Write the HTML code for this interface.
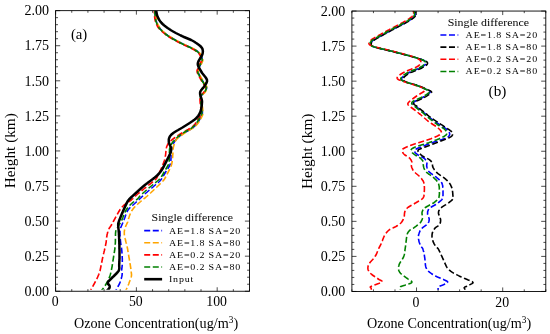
<!DOCTYPE html>
<html><head><meta charset="utf-8"><title>Ozone profiles</title>
<style>html,body{margin:0;padding:0;background:#fff}svg{display:block}</style></head>
<body>
<svg width="550" height="334" viewBox="0 0 550 334">
<rect width="550" height="334" fill="#fff"/>
<defs><clipPath id="cl"><rect x="55.6" y="10.7" width="193.9" height="279.0"/></clipPath><clipPath id="cr"><rect x="351.9" y="10.7" width="193.9" height="279.0"/></clipPath></defs>
<g clip-path="url(#cl)">
<path d="M155.4,10.5 L155.3,11.0 L155.3,11.5 L155.3,12.0 L155.3,12.5 L155.3,13.0 L155.3,13.5 L155.3,14.0 L155.3,14.5 L155.4,15.0 L155.4,15.5 L155.5,16.0 L155.5,16.5 L155.6,17.0 L155.6,17.5 L155.7,18.0 L155.8,18.5 L155.9,19.0 L156.0,19.5 L156.1,20.0 L156.2,20.5 L156.3,21.0 L156.4,21.5 L156.6,22.0 L156.8,22.5 L156.9,23.0 L157.1,23.5 L157.3,24.0 L157.5,24.5 L157.8,25.0 L158.0,25.5 L158.3,26.0 L158.6,26.5 L158.9,27.0 L159.2,27.5 L159.6,28.0 L160.0,28.5 L160.4,29.0 L160.9,29.5 L161.3,30.0 L161.8,30.5 L162.4,31.0 L162.9,31.5 L163.5,32.0 L164.0,32.5 L164.6,33.0 L165.2,33.5 L165.8,34.0 L166.5,34.5 L167.1,35.0 L167.8,35.5 L168.6,36.0 L169.3,36.5 L170.1,37.0 L170.9,37.5 L171.8,38.0 L172.6,38.5 L173.5,39.0 L174.4,39.5 L175.3,40.0 L176.2,40.5 L177.1,41.0 L178.0,41.5 L179.0,42.0 L180.0,42.5 L180.9,43.0 L182.0,43.5 L183.0,44.0 L184.0,44.5 L185.1,45.0 L186.2,45.5 L187.2,46.0 L188.3,46.5 L189.4,47.0 L190.5,47.5 L191.6,48.0 L192.6,48.5 L193.5,49.0 L194.5,49.5 L195.3,50.0 L196.1,50.5 L196.9,51.0 L197.6,51.5 L198.2,52.0 L198.8,52.5 L199.3,53.0 L199.7,53.5 L200.1,54.0 L200.5,54.5 L200.8,55.0 L201.1,55.5 L201.3,56.0 L201.5,56.5 L201.7,57.0 L201.9,57.5 L202.0,58.0 L202.1,58.5 L202.3,59.0 L202.4,59.5 L202.5,60.0 L202.5,60.5 L202.4,61.0 L202.1,61.5 L201.9,62.0 L201.7,62.5 L201.4,63.0 L201.1,63.5 L200.9,64.0 L200.6,64.5 L200.4,65.0 L200.1,65.5 L199.9,66.0 L199.6,66.5 L199.4,67.0 L199.2,67.5 L198.9,68.0 L198.7,68.5 L198.5,69.0 L198.3,69.5 L198.2,70.0 L198.0,70.5 L198.0,71.0 L198.0,71.5 L198.1,72.0 L198.2,72.5 L198.4,73.0 L198.6,73.5 L198.8,74.0 L199.1,74.5 L199.3,75.0 L199.6,75.5 L199.9,76.0 L200.1,76.5 L200.4,77.0 L200.7,77.5 L200.9,78.0 L201.2,78.5 L201.5,79.0 L201.8,79.5 L202.1,80.0 L202.3,80.5 L202.6,81.0 L202.9,81.5 L203.2,82.0 L203.5,82.5 L203.9,83.0 L204.2,83.5 L204.6,84.0 L204.9,84.5 L205.3,85.0 L205.6,85.5 L205.9,86.0 L206.2,86.5 L206.5,87.0 L206.6,87.5 L206.7,88.0 L206.6,88.5 L206.4,89.0 L206.2,89.5 L206.0,90.0 L205.8,90.5 L205.5,91.0 L205.2,91.5 L204.9,92.0 L204.5,92.5 L204.0,93.0 L203.5,93.5 L203.0,94.0 L202.4,94.5 L201.9,95.0 L201.5,95.5 L201.1,96.0 L200.9,96.5 L200.9,97.0 L200.9,97.5 L200.9,98.0 L201.0,98.5 L201.0,99.0 L201.0,99.5 L201.1,100.0 L201.1,100.5 L201.2,101.0 L201.2,101.5 L201.3,102.0 L201.3,102.5 L201.4,103.0 L201.5,103.5 L201.5,104.0 L201.6,104.5 L201.7,105.0 L201.7,105.5 L201.8,106.0 L201.9,106.5 L201.9,107.0 L202.0,107.5 L202.1,108.0 L202.1,108.5 L202.2,109.0 L202.2,109.5 L202.3,110.0 L202.3,110.5 L202.4,111.0 L202.4,111.5 L202.4,112.0 L202.4,112.5 L202.4,113.0 L202.4,113.5 L202.3,114.0 L202.2,114.5 L202.0,115.0 L201.8,115.5 L201.6,116.0 L201.3,116.5 L201.1,117.0 L200.8,117.5 L200.5,118.0 L200.2,118.5 L199.9,119.0 L199.6,119.5 L199.3,120.0 L199.0,120.5 L198.7,121.0 L198.4,121.5 L198.1,122.0 L197.7,122.5 L197.4,123.0 L197.0,123.5 L196.6,124.0 L196.2,124.5 L195.7,125.0 L195.3,125.5 L194.8,126.0 L194.3,126.5 L193.8,127.0 L193.2,127.5 L192.6,128.0 L191.9,128.5 L191.1,129.0 L190.3,129.5 L189.4,130.0 L188.5,130.5 L187.5,131.0 L186.6,131.5 L185.7,132.0 L184.8,132.5 L184.0,133.0 L183.2,133.5 L182.5,134.0 L181.8,134.5 L181.2,135.0 L180.5,135.5 L179.9,136.0 L179.3,136.5 L178.8,137.0 L178.2,137.5 L177.7,138.0 L177.2,138.5 L176.7,139.0 L176.2,139.5 L175.8,140.0 L175.4,140.5 L175.0,141.0 L174.6,141.5 L174.3,142.0 L174.0,142.5 L173.6,143.0 L173.3,143.5 L173.1,144.0 L172.8,144.5 L172.6,145.0 L172.4,145.5 L172.2,146.0 L172.0,146.5 L171.9,147.0 L171.8,147.5 L171.6,148.0 L171.5,148.5 L171.4,149.0 L171.3,149.5 L171.3,150.0 L171.3,150.5 L171.2,151.0 L171.2,151.5 L171.2,152.0 L171.2,152.5 L171.1,153.0 L171.1,153.5 L171.1,154.0 L171.1,154.5 L171.0,155.0 L171.0,155.5 L171.0,156.0 L171.0,156.5 L171.0,157.0 L171.0,157.5 L171.0,158.0 L171.0,158.5 L170.9,159.0 L170.9,159.5 L170.9,160.0 L170.9,160.5 L170.9,161.0 L170.8,161.5 L170.8,162.0 L170.7,162.5 L170.6,163.0 L170.5,163.5 L170.3,164.0 L170.1,164.5 L169.9,165.0 L169.7,165.5 L169.4,166.0 L169.1,166.5 L168.8,167.0 L168.5,167.5 L168.2,168.0 L167.9,168.5 L167.6,169.0 L167.3,169.5 L167.0,170.0 L166.6,170.5 L166.3,171.0 L166.0,171.5 L165.7,172.0 L165.4,172.5 L165.1,173.0 L164.8,173.5 L164.5,174.0 L164.2,174.5 L163.9,175.0 L163.6,175.5 L163.3,176.0 L163.0,176.5 L162.7,177.0 L162.4,177.5 L162.1,178.0 L161.8,178.5 L161.5,179.0 L161.1,179.5 L160.7,180.0 L160.3,180.5 L159.9,181.0 L159.4,181.5 L158.8,182.0 L158.3,182.5 L157.7,183.0 L157.1,183.5 L156.5,184.0 L155.9,184.5 L155.3,185.0 L154.7,185.5 L154.1,186.0 L153.5,186.5 L153.0,187.0 L152.4,187.5 L151.8,188.0 L151.2,188.5 L150.7,189.0 L150.1,189.5 L149.5,190.0 L148.9,190.5 L148.3,191.0 L147.7,191.5 L147.2,192.0 L146.6,192.5 L146.0,193.0 L145.4,193.5 L144.9,194.0 L144.3,194.5 L143.7,195.0 L143.2,195.5 L142.7,196.0 L142.2,196.5 L141.7,197.0 L141.2,197.5 L140.7,198.0 L140.1,198.5 L139.6,199.0 L139.1,199.5 L138.5,200.0 L138.0,200.5 L137.4,201.0 L136.9,201.5 L136.3,202.0 L135.8,202.5 L135.2,203.0 L134.7,203.5 L134.1,204.0 L133.6,204.5 L133.0,205.0 L132.4,205.5 L131.9,206.0 L131.3,206.5 L130.8,207.0 L130.2,207.5 L129.7,208.0 L129.2,208.5 L128.8,209.0 L128.4,209.5 L128.0,210.0 L127.7,210.5 L127.4,211.0 L127.1,211.5 L126.9,212.0 L126.7,212.5 L126.5,213.0 L126.3,213.5 L126.1,214.0 L125.9,214.5 L125.7,215.0 L125.6,215.5 L125.4,216.0 L125.2,216.5 L125.0,217.0 L124.9,217.5 L124.7,218.0 L124.5,218.5 L124.3,219.0 L124.1,219.5 L123.9,220.0 L123.7,220.5 L123.5,221.0 L123.3,221.5 L123.1,222.0 L122.9,222.5 L122.7,223.0 L122.5,223.5 L122.3,224.0 L122.1,224.5 L121.9,225.0 L121.6,225.5 L121.4,226.0 L121.2,226.5 L121.0,227.0 L120.8,227.5 L120.6,228.0 L120.5,228.5 L120.4,229.0 L120.2,229.5 L120.2,230.0 L120.1,230.5 L120.0,231.0 L120.0,231.5 L120.0,232.0 L120.0,232.5 L120.0,233.0 L120.0,233.5 L120.0,234.0 L120.0,234.5 L120.0,235.0 L120.0,235.5 L120.1,236.0 L120.1,236.5 L120.1,237.0 L120.2,237.5 L120.2,238.0 L120.2,238.5 L120.3,239.0 L120.3,239.5 L120.4,240.0 L120.4,240.5 L120.5,241.0 L120.5,241.5 L120.6,242.0 L120.6,242.5 L120.7,243.0 L120.8,243.5 L120.8,244.0 L120.9,244.5 L121.0,245.0 L121.1,245.5 L121.2,246.0 L121.3,246.5 L121.4,247.0 L121.4,247.5 L121.5,248.0 L121.6,248.5 L121.6,249.0 L121.7,249.5 L121.7,250.0 L121.8,250.5 L121.8,251.0 L121.9,251.5 L121.9,252.0 L121.9,252.5 L122.0,253.0 L122.0,253.5 L122.1,254.0 L122.1,254.5 L122.1,255.0 L122.1,255.5 L122.2,256.0 L122.2,256.5 L122.2,257.0 L122.2,257.5 L122.2,258.0 L122.3,258.5 L122.3,259.0 L122.3,259.5 L122.3,260.0 L122.3,260.5 L122.3,261.0 L122.3,261.5 L122.3,262.0 L122.3,262.5 L122.2,263.0 L122.2,263.5 L122.2,264.0 L122.2,264.5 L122.2,265.0 L122.2,265.5 L122.1,266.0 L122.1,266.5 L122.0,267.0 L122.0,267.5 L121.9,268.0 L121.8,268.5 L121.8,269.0 L121.7,269.5 L121.7,270.0 L121.7,270.5 L121.8,271.0 L122.0,271.5 L122.1,272.0 L122.2,272.5 L122.2,273.0 L122.2,273.5 L122.2,274.0 L122.1,274.5 L122.1,275.0 L122.0,275.5 L121.9,276.0 L121.8,276.5 L121.7,277.0 L121.5,277.5 L121.4,278.0 L121.3,278.5 L121.1,279.0 L121.0,279.5 L120.9,280.0 L120.7,280.5 L120.6,281.0 L120.4,281.5 L120.2,282.0 L120.0,282.5 L119.8,283.0 L119.6,283.5 L119.4,284.0 L119.1,284.5 L118.8,285.0 L118.6,285.5 L118.3,286.0 L118.0,286.5 L117.7,287.0 L117.5,287.5 L117.2,288.0 L116.9,288.5 L116.7,289.0 L116.4,289.5 L116.1,290.0 L115.9,290.5 L115.6,291.0" fill="none" stroke="#0000ff" stroke-width="1.6" stroke-dasharray="6.0 2.58" stroke-dashoffset="1.5"/>
<path d="M155.7,10.5 L155.7,11.0 L155.7,11.5 L155.6,12.0 L155.6,12.5 L155.6,13.0 L155.6,13.5 L155.7,14.0 L155.7,14.5 L155.7,15.0 L155.8,15.5 L155.8,16.0 L155.9,16.5 L155.9,17.0 L156.0,17.5 L156.1,18.0 L156.2,18.5 L156.2,19.0 L156.3,19.5 L156.4,20.0 L156.5,20.5 L156.7,21.0 L156.8,21.5 L157.0,22.0 L157.1,22.5 L157.3,23.0 L157.5,23.5 L157.7,24.0 L157.9,24.5 L158.1,25.0 L158.4,25.5 L158.6,26.0 L158.9,26.5 L159.2,27.0 L159.6,27.5 L159.9,28.0 L160.3,28.5 L160.8,29.0 L161.2,29.5 L161.7,30.0 L162.2,30.5 L162.7,31.0 L163.3,31.5 L163.8,32.0 L164.4,32.5 L165.0,33.0 L165.6,33.5 L166.2,34.0 L166.8,34.5 L167.5,35.0 L168.2,35.5 L168.9,36.0 L169.7,36.5 L170.5,37.0 L171.3,37.5 L172.1,38.0 L173.0,38.5 L173.8,39.0 L174.7,39.5 L175.6,40.0 L176.5,40.5 L177.5,41.0 L178.4,41.5 L179.4,42.0 L180.3,42.5 L181.3,43.0 L182.3,43.5 L183.4,44.0 L184.4,44.5 L185.5,45.0 L186.5,45.5 L187.6,46.0 L188.7,46.5 L189.8,47.0 L190.9,47.5 L192.0,48.0 L193.0,48.5 L193.9,49.0 L194.8,49.5 L195.7,50.0 L196.5,50.5 L197.3,51.0 L197.9,51.5 L198.6,52.0 L199.1,52.5 L199.6,53.0 L200.1,53.5 L200.5,54.0 L200.9,54.5 L201.2,55.0 L201.4,55.5 L201.7,56.0 L201.9,56.5 L202.1,57.0 L202.2,57.5 L202.4,58.0 L202.5,58.5 L202.6,59.0 L202.8,59.5 L202.8,60.0 L202.8,60.5 L202.7,61.0 L202.5,61.5 L202.3,62.0 L202.0,62.5 L201.8,63.0 L201.5,63.5 L201.2,64.0 L201.0,64.5 L200.7,65.0 L200.5,65.5 L200.2,66.0 L200.0,66.5 L199.8,67.0 L199.5,67.5 L199.3,68.0 L199.1,68.5 L198.9,69.0 L198.7,69.5 L198.5,70.0 L198.4,70.5 L198.4,71.0 L198.4,71.5 L198.5,72.0 L198.6,72.5 L198.7,73.0 L198.9,73.5 L199.2,74.0 L199.4,74.5 L199.7,75.0 L200.0,75.5 L200.2,76.0 L200.5,76.5 L200.7,77.0 L201.0,77.5 L201.3,78.0 L201.6,78.5 L201.8,79.0 L202.1,79.5 L202.4,80.0 L202.7,80.5 L203.0,81.0 L203.3,81.5 L203.6,82.0 L203.9,82.5 L204.2,83.0 L204.6,83.5 L204.9,84.0 L205.3,84.5 L205.6,85.0 L206.0,85.5 L206.3,86.0 L206.6,86.5 L206.9,87.0 L207.0,87.5 L207.0,88.0 L206.9,88.5 L206.8,89.0 L206.6,89.5 L206.4,90.0 L206.1,90.5 L205.8,91.0 L205.5,91.5 L205.2,92.0 L204.8,92.5 L204.4,93.0 L203.9,93.5 L203.3,94.0 L202.8,94.5 L202.3,95.0 L201.8,95.5 L201.5,96.0 L201.3,96.5 L201.3,97.0 L201.3,97.5 L201.3,98.0 L201.3,98.5 L201.4,99.0 L201.4,99.5 L201.5,100.0 L201.5,100.5 L201.6,101.0 L201.6,101.5 L201.7,102.0 L201.8,102.5 L201.8,103.0 L201.9,103.5 L202.0,104.0 L202.0,104.5 L202.1,105.0 L202.2,105.5 L202.3,106.0 L202.3,106.5 L202.4,107.0 L202.5,107.5 L202.6,108.0 L202.6,108.5 L202.7,109.0 L202.7,109.5 L202.8,110.0 L202.8,110.5 L202.9,111.0 L202.9,111.5 L202.9,112.0 L203.0,112.5 L203.0,113.0 L202.9,113.5 L202.8,114.0 L202.7,114.5 L202.6,115.0 L202.4,115.5 L202.2,116.0 L201.9,116.5 L201.7,117.0 L201.4,117.5 L201.1,118.0 L200.8,118.5 L200.6,119.0 L200.3,119.5 L200.0,120.0 L199.7,120.5 L199.4,121.0 L199.2,121.5 L198.8,122.0 L198.5,122.5 L198.2,123.0 L197.8,123.5 L197.4,124.0 L197.0,124.5 L196.5,125.0 L196.0,125.5 L195.5,126.0 L194.9,126.5 L194.3,127.0 L193.6,127.5 L192.8,128.0 L192.1,128.5 L191.3,129.0 L190.4,129.5 L189.6,130.0 L188.7,130.5 L187.9,131.0 L187.0,131.5 L186.2,132.0 L185.4,132.5 L184.6,133.0 L183.9,133.5 L183.2,134.0 L182.5,134.5 L181.8,135.0 L181.2,135.5 L180.5,136.0 L179.9,136.5 L179.3,137.0 L178.7,137.5 L178.1,138.0 L177.5,138.5 L177.0,139.0 L176.5,139.5 L176.1,140.0 L175.8,140.5 L175.4,141.0 L175.2,141.5 L174.9,142.0 L174.7,142.5 L174.6,143.0 L174.4,143.5 L174.3,144.0 L174.1,144.5 L174.0,145.0 L173.8,145.5 L173.7,146.0 L173.5,146.5 L173.4,147.0 L173.3,147.5 L173.2,148.0 L173.2,148.5 L173.2,149.0 L173.1,149.5 L173.1,150.0 L173.1,150.5 L173.1,151.0 L173.0,151.5 L173.0,152.0 L173.0,152.5 L172.9,153.0 L172.9,153.5 L172.9,154.0 L172.8,154.5 L172.8,155.0 L172.7,155.5 L172.7,156.0 L172.7,156.5 L172.6,157.0 L172.6,157.5 L172.5,158.0 L172.5,158.5 L172.4,159.0 L172.4,159.5 L172.3,160.0 L172.3,160.5 L172.2,161.0 L172.2,161.5 L172.1,162.0 L172.0,162.5 L171.9,163.0 L171.8,163.5 L171.7,164.0 L171.6,164.5 L171.4,165.0 L171.3,165.5 L171.1,166.0 L170.9,166.5 L170.7,167.0 L170.5,167.5 L170.3,168.0 L170.0,168.5 L169.8,169.0 L169.5,169.5 L169.3,170.0 L169.0,170.5 L168.8,171.0 L168.5,171.5 L168.3,172.0 L168.0,172.5 L167.7,173.0 L167.5,173.5 L167.2,174.0 L167.0,174.5 L166.7,175.0 L166.5,175.5 L166.2,176.0 L165.9,176.5 L165.7,177.0 L165.4,177.5 L165.1,178.0 L164.8,178.5 L164.5,179.0 L164.1,179.5 L163.8,180.0 L163.4,180.5 L162.9,181.0 L162.5,181.5 L162.0,182.0 L161.5,182.5 L161.0,183.0 L160.5,183.5 L160.0,184.0 L159.5,184.5 L159.0,185.0 L158.5,185.5 L157.9,186.0 L157.4,186.5 L156.9,187.0 L156.4,187.5 L155.9,188.0 L155.3,188.5 L154.8,189.0 L154.3,189.5 L153.7,190.0 L153.2,190.5 L152.7,191.0 L152.1,191.5 L151.6,192.0 L151.1,192.5 L150.5,193.0 L150.0,193.5 L149.5,194.0 L148.9,194.5 L148.4,195.0 L147.8,195.5 L147.3,196.0 L146.7,196.5 L146.1,197.0 L145.5,197.5 L144.9,198.0 L144.2,198.5 L143.6,199.0 L143.0,199.5 L142.4,200.0 L141.8,200.5 L141.2,201.0 L140.7,201.5 L140.1,202.0 L139.5,202.5 L138.9,203.0 L138.4,203.5 L137.8,204.0 L137.3,204.5 L136.7,205.0 L136.2,205.5 L135.7,206.0 L135.2,206.5 L134.7,207.0 L134.2,207.5 L133.8,208.0 L133.4,208.5 L133.0,209.0 L132.6,209.5 L132.3,210.0 L131.9,210.5 L131.6,211.0 L131.3,211.5 L131.1,212.0 L130.8,212.5 L130.6,213.0 L130.4,213.5 L130.2,214.0 L130.0,214.5 L129.8,215.0 L129.6,215.5 L129.4,216.0 L129.2,216.5 L129.1,217.0 L128.9,217.5 L128.8,218.0 L128.6,218.5 L128.5,219.0 L128.4,219.5 L128.3,220.0 L128.1,220.5 L128.0,221.0 L127.8,221.5 L127.7,222.0 L127.5,222.5 L127.2,223.0 L127.0,223.5 L126.8,224.0 L126.5,224.5 L126.3,225.0 L126.1,225.5 L125.8,226.0 L125.6,226.5 L125.4,227.0 L125.2,227.5 L125.1,228.0 L124.9,228.5 L124.8,229.0 L124.7,229.5 L124.6,230.0 L124.5,230.5 L124.4,231.0 L124.3,231.5 L124.3,232.0 L124.3,232.5 L124.3,233.0 L124.3,233.5 L124.3,234.0 L124.3,234.5 L124.4,235.0 L124.5,235.5 L124.6,236.0 L124.7,236.5 L124.8,237.0 L124.9,237.5 L125.0,238.0 L125.1,238.5 L125.2,239.0 L125.4,239.5 L125.5,240.0 L125.6,240.5 L125.7,241.0 L125.8,241.5 L126.0,242.0 L126.1,242.5 L126.2,243.0 L126.4,243.5 L126.5,244.0 L126.6,244.5 L126.8,245.0 L126.9,245.5 L127.0,246.0 L127.1,246.5 L127.2,247.0 L127.3,247.5 L127.4,248.0 L127.5,248.5 L127.6,249.0 L127.7,249.5 L127.8,250.0 L127.8,250.5 L127.9,251.0 L128.0,251.5 L128.1,252.0 L128.2,252.5 L128.3,253.0 L128.3,253.5 L128.4,254.0 L128.5,254.5 L128.6,255.0 L128.7,255.5 L128.8,256.0 L128.8,256.5 L128.9,257.0 L129.0,257.5 L129.1,258.0 L129.2,258.5 L129.3,259.0 L129.4,259.5 L129.4,260.0 L129.5,260.5 L129.6,261.0 L129.7,261.5 L129.8,262.0 L129.9,262.5 L129.9,263.0 L130.0,263.5 L130.1,264.0 L130.2,264.5 L130.3,265.0 L130.4,265.5 L130.4,266.0 L130.5,266.5 L130.6,267.0 L130.7,267.5 L130.7,268.0 L130.8,268.5 L130.9,269.0 L130.9,269.5 L131.0,270.0 L131.1,270.5 L131.1,271.0 L131.2,271.5 L131.2,272.0 L131.3,272.5 L131.3,273.0 L131.4,273.5 L131.5,274.0 L131.5,274.5 L131.5,275.0 L131.5,275.5 L131.4,276.0 L131.3,276.5 L131.2,277.0 L131.0,277.5 L130.8,278.0 L130.7,278.5 L130.5,279.0 L130.3,279.5 L130.1,280.0 L129.9,280.5 L129.8,281.0 L129.6,281.5 L129.4,282.0 L129.2,282.5 L129.0,283.0 L128.9,283.5 L128.7,284.0 L128.5,284.5 L128.3,285.0 L128.1,285.5 L127.9,286.0 L127.7,286.5 L127.5,287.0 L127.2,287.5 L127.0,288.0 L126.8,288.5 L126.5,289.0 L126.3,289.5 L126.1,290.0 L125.8,290.5 L125.6,291.0" fill="none" stroke="#ffa500" stroke-width="1.6" stroke-dasharray="6.0 2.58" stroke-dashoffset="4.5"/>
<path d="M154.4,10.5 L154.4,11.0 L154.3,11.5 L154.3,12.0 L154.3,12.5 L154.3,13.0 L154.3,13.5 L154.3,14.0 L154.4,14.5 L154.4,15.0 L154.4,15.5 L154.5,16.0 L154.6,16.5 L154.6,17.0 L154.7,17.5 L154.8,18.0 L154.8,18.5 L154.9,19.0 L155.0,19.5 L155.1,20.0 L155.2,20.5 L155.3,21.0 L155.5,21.5 L155.6,22.0 L155.8,22.5 L156.0,23.0 L156.2,23.5 L156.4,24.0 L156.6,24.5 L156.8,25.0 L157.1,25.5 L157.3,26.0 L157.6,26.5 L157.9,27.0 L158.2,27.5 L158.6,28.0 L159.0,28.5 L159.4,29.0 L159.9,29.5 L160.4,30.0 L160.9,30.5 L161.4,31.0 L161.9,31.5 L162.5,32.0 L163.1,32.5 L163.7,33.0 L164.3,33.5 L164.9,34.0 L165.5,34.5 L166.2,35.0 L166.9,35.5 L167.6,36.0 L168.4,36.5 L169.2,37.0 L170.0,37.5 L170.8,38.0 L171.7,38.5 L172.5,39.0 L173.4,39.5 L174.3,40.0 L175.2,40.5 L176.1,41.0 L177.1,41.5 L178.0,42.0 L179.0,42.5 L180.0,43.0 L181.0,43.5 L182.0,44.0 L183.1,44.5 L184.1,45.0 L185.2,45.5 L186.3,46.0 L187.4,46.5 L188.5,47.0 L189.6,47.5 L190.6,48.0 L191.6,48.5 L192.6,49.0 L193.5,49.5 L194.4,50.0 L195.2,50.5 L195.9,51.0 L196.6,51.5 L197.2,52.0 L197.8,52.5 L198.3,53.0 L198.8,53.5 L199.2,54.0 L199.6,54.5 L199.9,55.0 L200.1,55.5 L200.3,56.0 L200.6,56.5 L200.7,57.0 L200.9,57.5 L201.0,58.0 L201.2,58.5 L201.3,59.0 L201.4,59.5 L201.5,60.0 L201.5,60.5 L201.4,61.0 L201.2,61.5 L201.0,62.0 L200.7,62.5 L200.4,63.0 L200.2,63.5 L199.9,64.0 L199.6,64.5 L199.4,65.0 L199.2,65.5 L198.9,66.0 L198.7,66.5 L198.4,67.0 L198.2,67.5 L198.0,68.0 L197.8,68.5 L197.6,69.0 L197.4,69.5 L197.2,70.0 L197.1,70.5 L197.0,71.0 L197.1,71.5 L197.1,72.0 L197.3,72.5 L197.4,73.0 L197.6,73.5 L197.9,74.0 L198.1,74.5 L198.4,75.0 L198.6,75.5 L198.9,76.0 L199.2,76.5 L199.4,77.0 L199.7,77.5 L200.0,78.0 L200.2,78.5 L200.5,79.0 L200.8,79.5 L201.1,80.0 L201.4,80.5 L201.7,81.0 L202.0,81.5 L202.3,82.0 L202.6,82.5 L202.9,83.0 L203.2,83.5 L203.6,84.0 L203.9,84.5 L204.3,85.0 L204.6,85.5 L205.0,86.0 L205.3,86.5 L205.5,87.0 L205.7,87.5 L205.7,88.0 L205.6,88.5 L205.5,89.0 L205.3,89.5 L205.1,90.0 L204.8,90.5 L204.5,91.0 L204.2,91.5 L203.9,92.0 L203.5,92.5 L203.1,93.0 L202.5,93.5 L202.0,94.0 L201.4,94.5 L200.9,95.0 L200.5,95.5 L200.1,96.0 L199.9,96.5 L199.9,97.0 L199.9,97.5 L199.9,98.0 L199.9,98.5 L199.9,99.0 L200.0,99.5 L200.0,100.0 L200.0,100.5 L200.1,101.0 L200.1,101.5 L200.1,102.0 L200.2,102.5 L200.2,103.0 L200.3,103.5 L200.3,104.0 L200.4,104.5 L200.4,105.0 L200.5,105.5 L200.6,106.0 L200.6,106.5 L200.7,107.0 L200.7,107.5 L200.8,108.0 L200.8,108.5 L200.9,109.0 L200.9,109.5 L200.9,110.0 L201.0,110.5 L201.0,111.0 L201.0,111.5 L201.0,112.0 L201.0,112.5 L201.0,113.0 L201.0,113.5 L200.9,114.0 L200.7,114.5 L200.5,115.0 L200.3,115.5 L200.1,116.0 L199.8,116.5 L199.6,117.0 L199.3,117.5 L199.0,118.0 L198.6,118.5 L198.3,119.0 L198.0,119.5 L197.7,120.0 L197.4,120.5 L197.1,121.0 L196.8,121.5 L196.4,122.0 L196.1,122.5 L195.7,123.0 L195.4,123.5 L195.0,124.0 L194.5,124.5 L194.1,125.0 L193.6,125.5 L193.1,126.0 L192.5,126.5 L191.9,127.0 L191.2,127.5 L190.5,128.0 L189.7,128.5 L188.9,129.0 L188.1,129.5 L187.2,130.0 L186.3,130.5 L185.5,131.0 L184.6,131.5 L183.7,132.0 L182.8,132.5 L181.9,133.0 L181.1,133.5 L180.3,134.0 L179.5,134.5 L178.8,135.0 L178.0,135.5 L177.3,136.0 L176.5,136.5 L175.8,137.0 L175.1,137.5 L174.4,138.0 L173.7,138.5 L173.0,139.0 L172.4,139.5 L171.7,140.0 L171.2,140.5 L170.6,141.0 L170.1,141.5 L169.6,142.0 L169.1,142.5 L168.7,143.0 L168.3,143.5 L167.9,144.0 L167.6,144.5 L167.4,145.0 L167.2,145.5 L167.0,146.0 L166.8,146.5 L166.6,147.0 L166.5,147.5 L166.3,148.0 L166.2,148.5 L166.1,149.0 L166.1,149.5 L166.0,150.0 L166.0,150.5 L165.9,151.0 L165.9,151.5 L165.9,152.0 L165.8,152.5 L165.8,153.0 L165.7,153.5 L165.7,154.0 L165.6,154.5 L165.6,155.0 L165.5,155.5 L165.4,156.0 L165.3,156.5 L165.3,157.0 L165.2,157.5 L165.1,158.0 L164.9,158.5 L164.8,159.0 L164.7,159.5 L164.5,160.0 L164.4,160.5 L164.2,161.0 L164.0,161.5 L163.8,162.0 L163.6,162.5 L163.5,163.0 L163.3,163.5 L163.1,164.0 L162.9,164.5 L162.7,165.0 L162.5,165.5 L162.3,166.0 L162.1,166.5 L161.9,167.0 L161.7,167.5 L161.5,168.0 L161.3,168.5 L161.1,169.0 L160.8,169.5 L160.6,170.0 L160.4,170.5 L160.1,171.0 L159.8,171.5 L159.6,172.0 L159.3,172.5 L159.0,173.0 L158.8,173.5 L158.5,174.0 L158.3,174.5 L158.0,175.0 L157.8,175.5 L157.6,176.0 L157.4,176.5 L157.2,177.0 L157.0,177.5 L156.7,178.0 L156.4,178.5 L156.0,179.0 L155.5,179.5 L155.0,180.0 L154.4,180.5 L153.8,181.0 L153.2,181.5 L152.6,182.0 L152.0,182.5 L151.3,183.0 L150.7,183.5 L150.1,184.0 L149.4,184.5 L148.8,185.0 L148.2,185.5 L147.5,186.0 L146.9,186.5 L146.3,187.0 L145.7,187.5 L145.0,188.0 L144.4,188.5 L143.8,189.0 L143.2,189.5 L142.6,190.0 L141.9,190.5 L141.3,191.0 L140.7,191.5 L140.1,192.0 L139.5,192.5 L138.8,193.0 L138.2,193.5 L137.7,194.0 L137.1,194.5 L136.6,195.0 L136.0,195.5 L135.5,196.0 L135.0,196.5 L134.5,197.0 L134.0,197.5 L133.5,198.0 L133.0,198.5 L132.4,199.0 L131.8,199.5 L131.2,200.0 L130.5,200.5 L129.8,201.0 L129.1,201.5 L128.4,202.0 L127.7,202.5 L127.0,203.0 L126.2,203.5 L125.5,204.0 L124.9,204.5 L124.2,205.0 L123.6,205.5 L123.1,206.0 L122.6,206.5 L122.1,207.0 L121.7,207.5 L121.2,208.0 L120.8,208.5 L120.5,209.0 L120.1,209.5 L119.8,210.0 L119.5,210.5 L119.2,211.0 L118.9,211.5 L118.6,212.0 L118.3,212.5 L118.0,213.0 L117.8,213.5 L117.5,214.0 L117.2,214.5 L116.9,215.0 L116.6,215.5 L116.3,216.0 L116.1,216.5 L115.8,217.0 L115.5,217.5 L115.3,218.0 L115.0,218.5 L114.7,219.0 L114.4,219.5 L114.2,220.0 L113.9,220.5 L113.6,221.0 L113.3,221.5 L113.1,222.0 L112.8,222.5 L112.5,223.0 L112.2,223.5 L112.0,224.0 L111.7,224.5 L111.4,225.0 L111.1,225.5 L110.8,226.0 L110.4,226.5 L110.1,227.0 L109.7,227.5 L109.4,228.0 L109.1,228.5 L108.9,229.0 L108.7,229.5 L108.5,230.0 L108.3,230.5 L108.1,231.0 L107.9,231.5 L107.8,232.0 L107.6,232.5 L107.5,233.0 L107.4,233.5 L107.2,234.0 L107.1,234.5 L107.0,235.0 L107.0,235.5 L106.9,236.0 L106.8,236.5 L106.7,237.0 L106.6,237.5 L106.6,238.0 L106.5,238.5 L106.5,239.0 L106.4,239.5 L106.4,240.0 L106.3,240.5 L106.3,241.0 L106.2,241.5 L106.2,242.0 L106.1,242.5 L106.0,243.0 L105.9,243.5 L105.8,244.0 L105.7,244.5 L105.6,245.0 L105.5,245.5 L105.4,246.0 L105.3,246.5 L105.2,247.0 L105.1,247.5 L105.0,248.0 L104.8,248.5 L104.7,249.0 L104.6,249.5 L104.5,250.0 L104.4,250.5 L104.3,251.0 L104.1,251.5 L104.0,252.0 L103.9,252.5 L103.7,253.0 L103.6,253.5 L103.5,254.0 L103.3,254.5 L103.2,255.0 L103.1,255.5 L103.0,256.0 L102.9,256.5 L102.8,257.0 L102.7,257.5 L102.6,258.0 L102.5,258.5 L102.4,259.0 L102.3,259.5 L102.2,260.0 L102.1,260.5 L102.0,261.0 L101.9,261.5 L101.8,262.0 L101.7,262.5 L101.6,263.0 L101.5,263.5 L101.4,264.0 L101.3,264.5 L101.2,265.0 L101.1,265.5 L101.0,266.0 L100.9,266.5 L100.8,267.0 L100.7,267.5 L100.6,268.0 L100.5,268.5 L100.4,269.0 L100.3,269.5 L100.2,270.0 L100.1,270.5 L100.0,271.0 L99.8,271.5 L99.7,272.0 L99.5,272.5 L99.3,273.0 L99.1,273.5 L98.9,274.0 L98.8,274.5 L98.6,275.0 L98.3,275.5 L98.1,276.0 L97.9,276.5 L97.7,277.0 L97.5,277.5 L97.3,278.0 L97.0,278.5 L96.8,279.0 L96.5,279.5 L96.3,280.0 L96.0,280.5 L95.7,281.0 L95.5,281.5 L95.2,282.0 L94.9,282.5 L94.7,283.0 L94.4,283.5 L94.1,284.0 L93.8,284.5 L93.6,285.0 L93.3,285.5 L93.0,286.0 L92.7,286.5 L92.5,287.0 L92.2,287.5 L91.9,288.0 L91.6,288.5 L91.4,289.0 L91.1,289.5 L90.8,290.0 L90.6,290.5 L90.3,291.0" fill="none" stroke="#ff0000" stroke-width="1.6" stroke-dasharray="6.0 2.58" stroke-dashoffset="3"/>
<path d="M155.0,10.5 L155.0,11.0 L154.9,11.5 L154.9,12.0 L154.9,12.5 L154.9,13.0 L154.9,13.5 L154.9,14.0 L155.0,14.5 L155.0,15.0 L155.0,15.5 L155.1,16.0 L155.2,16.5 L155.2,17.0 L155.3,17.5 L155.4,18.0 L155.4,18.5 L155.5,19.0 L155.6,19.5 L155.7,20.0 L155.8,20.5 L155.9,21.0 L156.1,21.5 L156.2,22.0 L156.4,22.5 L156.6,23.0 L156.8,23.5 L157.0,24.0 L157.2,24.5 L157.4,25.0 L157.7,25.5 L157.9,26.0 L158.2,26.5 L158.5,27.0 L158.8,27.5 L159.2,28.0 L159.6,28.5 L160.0,29.0 L160.5,29.5 L161.0,30.0 L161.5,30.5 L162.0,31.0 L162.5,31.5 L163.1,32.0 L163.7,32.5 L164.3,33.0 L164.9,33.5 L165.5,34.0 L166.1,34.5 L166.8,35.0 L167.5,35.5 L168.2,36.0 L169.0,36.5 L169.8,37.0 L170.6,37.5 L171.4,38.0 L172.3,38.5 L173.1,39.0 L174.0,39.5 L174.9,40.0 L175.8,40.5 L176.7,41.0 L177.7,41.5 L178.6,42.0 L179.6,42.5 L180.6,43.0 L181.6,43.5 L182.6,44.0 L183.7,44.5 L184.7,45.0 L185.8,45.5 L186.9,46.0 L188.0,46.5 L189.1,47.0 L190.2,47.5 L191.2,48.0 L192.2,48.5 L193.2,49.0 L194.1,49.5 L195.0,50.0 L195.8,50.5 L196.5,51.0 L197.2,51.5 L197.8,52.0 L198.4,52.5 L198.9,53.0 L199.4,53.5 L199.8,54.0 L200.2,54.5 L200.5,55.0 L200.7,55.5 L200.9,56.0 L201.2,56.5 L201.3,57.0 L201.5,57.5 L201.6,58.0 L201.8,58.5 L201.9,59.0 L202.0,59.5 L202.1,60.0 L202.1,60.5 L202.0,61.0 L201.8,61.5 L201.6,62.0 L201.3,62.5 L201.0,63.0 L200.8,63.5 L200.5,64.0 L200.2,64.5 L200.0,65.0 L199.8,65.5 L199.5,66.0 L199.3,66.5 L199.0,67.0 L198.8,67.5 L198.6,68.0 L198.4,68.5 L198.2,69.0 L198.0,69.5 L197.8,70.0 L197.7,70.5 L197.6,71.0 L197.7,71.5 L197.7,72.0 L197.9,72.5 L198.0,73.0 L198.2,73.5 L198.5,74.0 L198.7,74.5 L199.0,75.0 L199.2,75.5 L199.5,76.0 L199.8,76.5 L200.0,77.0 L200.3,77.5 L200.6,78.0 L200.8,78.5 L201.1,79.0 L201.4,79.5 L201.7,80.0 L202.0,80.5 L202.3,81.0 L202.6,81.5 L202.9,82.0 L203.2,82.5 L203.5,83.0 L203.8,83.5 L204.2,84.0 L204.5,84.5 L204.9,85.0 L205.2,85.5 L205.6,86.0 L205.9,86.5 L206.1,87.0 L206.3,87.5 L206.3,88.0 L206.2,88.5 L206.1,89.0 L205.9,89.5 L205.7,90.0 L205.4,90.5 L205.1,91.0 L204.8,91.5 L204.5,92.0 L204.1,92.5 L203.7,93.0 L203.1,93.5 L202.6,94.0 L202.0,94.5 L201.5,95.0 L201.1,95.5 L200.8,96.0 L200.5,96.5 L200.5,97.0 L200.5,97.5 L200.5,98.0 L200.6,98.5 L200.6,99.0 L200.6,99.5 L200.7,100.0 L200.7,100.5 L200.8,101.0 L200.8,101.5 L200.9,102.0 L200.9,102.5 L201.0,103.0 L201.0,103.5 L201.1,104.0 L201.1,104.5 L201.2,105.0 L201.3,105.5 L201.3,106.0 L201.4,106.5 L201.5,107.0 L201.5,107.5 L201.6,108.0 L201.6,108.5 L201.7,109.0 L201.7,109.5 L201.8,110.0 L201.8,110.5 L201.8,111.0 L201.9,111.5 L201.9,112.0 L201.9,112.5 L201.9,113.0 L201.8,113.5 L201.7,114.0 L201.6,114.5 L201.4,115.0 L201.2,115.5 L200.9,116.0 L200.7,116.5 L200.4,117.0 L200.1,117.5 L199.8,118.0 L199.4,118.5 L199.1,119.0 L198.8,119.5 L198.5,120.0 L198.2,120.5 L197.9,121.0 L197.6,121.5 L197.2,122.0 L196.9,122.5 L196.5,123.0 L196.1,123.5 L195.7,124.0 L195.3,124.5 L194.9,125.0 L194.4,125.5 L193.9,126.0 L193.4,126.5 L192.9,127.0 L192.3,127.5 L191.7,128.0 L191.0,128.5 L190.2,129.0 L189.3,129.5 L188.4,130.0 L187.5,130.5 L186.6,131.0 L185.7,131.5 L184.8,132.0 L183.9,132.5 L183.0,133.0 L182.2,133.5 L181.5,134.0 L180.8,134.5 L180.1,135.0 L179.5,135.5 L178.9,136.0 L178.2,136.5 L177.6,137.0 L177.1,137.5 L176.5,138.0 L176.0,138.5 L175.4,139.0 L175.0,139.5 L174.5,140.0 L174.1,140.5 L173.6,141.0 L173.2,141.5 L172.8,142.0 L172.5,142.5 L172.1,143.0 L171.8,143.5 L171.5,144.0 L171.2,144.5 L170.9,145.0 L170.7,145.5 L170.5,146.0 L170.3,146.5 L170.1,147.0 L170.0,147.5 L169.8,148.0 L169.7,148.5 L169.6,149.0 L169.5,149.5 L169.5,150.0 L169.5,150.5 L169.5,151.0 L169.5,151.5 L169.4,152.0 L169.4,152.5 L169.4,153.0 L169.4,153.5 L169.4,154.0 L169.4,154.5 L169.4,155.0 L169.4,155.5 L169.3,156.0 L169.3,156.5 L169.3,157.0 L169.3,157.5 L169.3,158.0 L169.3,158.5 L169.3,159.0 L169.3,159.5 L169.3,160.0 L169.2,160.5 L169.2,161.0 L169.2,161.5 L169.2,162.0 L169.2,162.5 L169.1,163.0 L168.9,163.5 L168.7,164.0 L168.5,164.5 L168.2,165.0 L168.0,165.5 L167.7,166.0 L167.4,166.5 L167.1,167.0 L166.8,167.5 L166.5,168.0 L166.2,168.5 L165.9,169.0 L165.6,169.5 L165.4,170.0 L165.1,170.5 L164.8,171.0 L164.5,171.5 L164.2,172.0 L163.9,172.5 L163.6,173.0 L163.3,173.5 L163.0,174.0 L162.8,174.5 L162.5,175.0 L162.2,175.5 L161.9,176.0 L161.6,176.5 L161.3,177.0 L160.9,177.5 L160.5,178.0 L160.1,178.5 L159.6,179.0 L159.1,179.5 L158.5,180.0 L158.0,180.5 L157.4,181.0 L156.8,181.5 L156.2,182.0 L155.6,182.5 L154.9,183.0 L154.3,183.5 L153.7,184.0 L153.1,184.5 L152.5,185.0 L151.9,185.5 L151.3,186.0 L150.7,186.5 L150.1,187.0 L149.5,187.5 L148.9,188.0 L148.4,188.5 L147.8,189.0 L147.2,189.5 L146.6,190.0 L146.0,190.5 L145.4,191.0 L144.9,191.5 L144.3,192.0 L143.7,192.5 L143.1,193.0 L142.6,193.5 L142.0,194.0 L141.4,194.5 L140.9,195.0 L140.4,195.5 L140.0,196.0 L139.6,196.5 L139.2,197.0 L138.8,197.5 L138.4,198.0 L137.9,198.5 L137.4,199.0 L136.8,199.5 L136.1,200.0 L135.3,200.5 L134.6,201.0 L134.0,201.5 L133.4,202.0 L132.8,202.5 L132.2,203.0 L131.7,203.5 L131.1,204.0 L130.6,204.5 L130.1,205.0 L129.6,205.5 L129.1,206.0 L128.7,206.5 L128.2,207.0 L127.8,207.5 L127.5,208.0 L127.1,208.5 L126.8,209.0 L126.5,209.5 L126.2,210.0 L125.9,210.5 L125.6,211.0 L125.3,211.5 L125.1,212.0 L124.8,212.5 L124.6,213.0 L124.4,213.5 L124.2,214.0 L123.9,214.5 L123.8,215.0 L123.6,215.5 L123.4,216.0 L123.2,216.5 L123.0,217.0 L122.9,217.5 L122.7,218.0 L122.5,218.5 L122.3,219.0 L122.1,219.5 L121.8,220.0 L121.6,220.5 L121.3,221.0 L121.0,221.5 L120.7,222.0 L120.5,222.5 L120.2,223.0 L119.9,223.5 L119.6,224.0 L119.3,224.5 L119.0,225.0 L118.7,225.5 L118.4,226.0 L118.1,226.5 L117.8,227.0 L117.5,227.5 L117.2,228.0 L116.9,228.5 L116.7,229.0 L116.4,229.5 L116.2,230.0 L116.0,230.5 L115.8,231.0 L115.7,231.5 L115.7,232.0 L115.6,232.5 L115.6,233.0 L115.5,233.5 L115.5,234.0 L115.5,234.5 L115.5,235.0 L115.5,235.5 L115.5,236.0 L115.5,236.5 L115.5,237.0 L115.5,237.5 L115.5,238.0 L115.4,238.5 L115.4,239.0 L115.4,239.5 L115.4,240.0 L115.4,240.5 L115.4,241.0 L115.4,241.5 L115.4,242.0 L115.4,242.5 L115.3,243.0 L115.3,243.5 L115.3,244.0 L115.2,244.5 L115.2,245.0 L115.2,245.5 L115.1,246.0 L115.1,246.5 L115.1,247.0 L115.0,247.5 L115.0,248.0 L114.9,248.5 L114.8,249.0 L114.8,249.5 L114.7,250.0 L114.6,250.5 L114.5,251.0 L114.5,251.5 L114.4,252.0 L114.3,252.5 L114.2,253.0 L114.1,253.5 L114.1,254.0 L114.0,254.5 L113.9,255.0 L113.8,255.5 L113.7,256.0 L113.6,256.5 L113.6,257.0 L113.5,257.5 L113.4,258.0 L113.3,258.5 L113.3,259.0 L113.2,259.5 L113.1,260.0 L113.0,260.5 L112.9,261.0 L112.9,261.5 L112.8,262.0 L112.7,262.5 L112.6,263.0 L112.6,263.5 L112.5,264.0 L112.4,264.5 L112.3,265.0 L112.2,265.5 L112.2,266.0 L112.1,266.5 L112.0,267.0 L111.9,267.5 L111.8,268.0 L111.7,268.5 L111.6,269.0 L111.5,269.5 L111.4,270.0 L111.3,270.5 L111.2,271.0 L111.1,271.5 L110.9,272.0 L110.8,272.5 L110.7,273.0 L110.6,273.5 L110.5,274.0 L110.3,274.5 L110.2,275.0 L110.0,275.5 L109.9,276.0 L109.7,276.5 L109.5,277.0 L109.3,277.5 L109.1,278.0 L108.9,278.5 L108.7,279.0 L108.5,279.5 L108.2,280.0 L108.0,280.5 L107.8,281.0 L107.5,281.5 L107.3,282.0 L107.0,282.5 L106.7,283.0 L106.4,283.5 L106.1,284.0 L105.8,284.5 L105.5,285.0 L105.2,285.5 L104.8,286.0 L104.5,286.5 L104.1,287.0 L103.7,287.5 L103.4,288.0 L103.0,288.5 L102.7,289.0 L102.3,289.5 L101.9,290.0 L101.6,290.5 L101.2,291.0" fill="none" stroke="#008000" stroke-width="1.6" stroke-dasharray="6.0 2.58" stroke-dashoffset="0"/>
<path d="M156.3,10.5 L156.3,11.0 L156.3,11.5 L156.4,12.0 L156.5,12.5 L156.6,13.0 L156.6,13.5 L156.8,14.0 L156.9,14.5 L157.0,15.0 L157.2,15.5 L157.3,16.0 L157.5,16.5 L157.7,17.0 L157.9,17.5 L158.2,18.0 L158.4,18.5 L158.7,19.0 L159.0,19.5 L159.3,20.0 L159.6,20.5 L160.0,21.0 L160.3,21.5 L160.7,22.0 L161.2,22.5 L161.6,23.0 L162.1,23.5 L162.6,24.0 L163.2,24.5 L163.7,25.0 L164.3,25.5 L165.0,26.0 L165.6,26.5 L166.3,27.0 L166.9,27.5 L167.6,28.0 L168.4,28.5 L169.1,29.0 L169.9,29.5 L170.6,30.0 L171.4,30.5 L172.3,31.0 L173.1,31.5 L174.0,32.0 L174.9,32.5 L175.8,33.0 L176.8,33.5 L177.8,34.0 L178.8,34.5 L179.8,35.0 L180.8,35.5 L181.9,36.0 L182.9,36.5 L184.0,37.0 L185.2,37.5 L186.4,38.0 L187.6,38.5 L188.8,39.0 L190.0,39.5 L191.1,40.0 L192.1,40.5 L193.0,41.0 L193.9,41.5 L194.7,42.0 L195.4,42.5 L196.2,43.0 L196.9,43.5 L197.6,44.0 L198.3,44.5 L199.0,45.0 L199.6,45.5 L200.2,46.0 L200.7,46.5 L201.2,47.0 L201.6,47.5 L201.9,48.0 L202.2,48.5 L202.5,49.0 L202.6,49.5 L202.7,50.0 L202.8,50.5 L202.8,51.0 L202.9,51.5 L202.8,52.0 L202.8,52.5 L202.7,53.0 L202.6,53.5 L202.5,54.0 L202.3,54.5 L202.1,55.0 L201.9,55.5 L201.6,56.0 L201.3,56.5 L201.0,57.0 L200.7,57.5 L200.3,58.0 L200.1,58.5 L199.8,59.0 L199.5,59.5 L199.2,60.0 L198.9,60.5 L198.7,61.0 L198.4,61.5 L198.2,62.0 L198.0,62.5 L197.9,63.0 L197.8,63.5 L197.8,64.0 L197.8,64.5 L197.9,65.0 L198.0,65.5 L198.2,66.0 L198.4,66.5 L198.6,67.0 L198.8,67.5 L199.1,68.0 L199.4,68.5 L199.7,69.0 L200.0,69.5 L200.3,70.0 L200.6,70.5 L200.9,71.0 L201.2,71.5 L201.5,72.0 L201.8,72.5 L202.1,73.0 L202.5,73.5 L202.9,74.0 L203.3,74.5 L203.7,75.0 L204.1,75.5 L204.5,76.0 L204.9,76.5 L205.3,77.0 L205.7,77.5 L206.0,78.0 L206.3,78.5 L206.6,79.0 L206.8,79.5 L207.0,80.0 L207.0,80.5 L207.0,81.0 L207.0,81.5 L206.8,82.0 L206.6,82.5 L206.4,83.0 L206.1,83.5 L205.8,84.0 L205.5,84.5 L205.1,85.0 L204.8,85.5 L204.5,86.0 L204.2,86.5 L203.8,87.0 L203.4,87.5 L203.0,88.0 L202.5,88.5 L202.1,89.0 L201.7,89.5 L201.3,90.0 L201.0,90.5 L200.6,91.0 L200.4,91.5 L200.2,92.0 L200.1,92.5 L200.1,93.0 L200.1,93.5 L200.1,94.0 L200.2,94.5 L200.3,95.0 L200.4,95.5 L200.5,96.0 L200.7,96.5 L200.9,97.0 L201.0,97.5 L201.2,98.0 L201.4,98.5 L201.5,99.0 L201.7,99.5 L201.8,100.0 L201.9,100.5 L202.0,101.0 L202.0,101.5 L202.0,102.0 L202.0,102.5 L201.9,103.0 L201.9,103.5 L201.9,104.0 L201.8,104.5 L201.8,105.0 L201.7,105.5 L201.7,106.0 L201.6,106.5 L201.5,107.0 L201.5,107.5 L201.4,108.0 L201.3,108.5 L201.2,109.0 L201.0,109.5 L200.9,110.0 L200.8,110.5 L200.6,111.0 L200.5,111.5 L200.3,112.0 L200.1,112.5 L199.9,113.0 L199.7,113.5 L199.4,114.0 L199.1,114.5 L198.8,115.0 L198.5,115.5 L198.2,116.0 L197.8,116.5 L197.3,117.0 L196.9,117.5 L196.4,118.0 L195.9,118.5 L195.3,119.0 L194.7,119.5 L194.0,120.0 L193.3,120.5 L192.6,121.0 L191.9,121.5 L191.1,122.0 L190.4,122.5 L189.6,123.0 L188.9,123.5 L188.1,124.0 L187.3,124.5 L186.5,125.0 L185.7,125.5 L184.9,126.0 L184.1,126.5 L183.3,127.0 L182.5,127.5 L181.6,128.0 L180.8,128.5 L179.9,129.0 L179.0,129.5 L178.2,130.0 L177.3,130.5 L176.4,131.0 L175.6,131.5 L174.8,132.0 L174.0,132.5 L173.3,133.0 L172.7,133.5 L172.1,134.0 L171.5,134.5 L171.0,135.0 L170.6,135.5 L170.2,136.0 L169.9,136.5 L169.6,137.0 L169.4,137.5 L169.2,138.0 L169.0,138.5 L168.9,139.0 L168.8,139.5 L168.8,140.0 L168.8,140.5 L168.8,141.0 L168.8,141.5 L168.8,142.0 L168.9,142.5 L169.0,143.0 L169.2,143.5 L169.4,144.0 L169.6,144.5 L169.8,145.0 L170.1,145.5 L170.3,146.0 L170.5,146.5 L170.7,147.0 L170.9,147.5 L171.1,148.0 L171.2,148.5 L171.2,149.0 L171.2,149.5 L171.1,150.0 L171.1,150.5 L171.0,151.0 L170.9,151.5 L170.8,152.0 L170.6,152.5 L170.5,153.0 L170.3,153.5 L170.1,154.0 L169.8,154.5 L169.6,155.0 L169.3,155.5 L169.1,156.0 L168.8,156.5 L168.6,157.0 L168.3,157.5 L168.1,158.0 L167.8,158.5 L167.6,159.0 L167.3,159.5 L167.1,160.0 L166.8,160.5 L166.5,161.0 L166.3,161.5 L166.0,162.0 L165.8,162.5 L165.5,163.0 L165.3,163.5 L165.0,164.0 L164.7,164.5 L164.5,165.0 L164.2,165.5 L164.0,166.0 L163.7,166.5 L163.5,167.0 L163.2,167.5 L162.9,168.0 L162.7,168.5 L162.4,169.0 L162.0,169.5 L161.7,170.0 L161.4,170.5 L161.0,171.0 L160.7,171.5 L160.3,172.0 L159.9,172.5 L159.5,173.0 L159.1,173.5 L158.6,174.0 L158.1,174.5 L157.6,175.0 L157.1,175.5 L156.5,176.0 L156.0,176.5 L155.4,177.0 L154.8,177.5 L154.1,178.0 L153.5,178.5 L152.9,179.0 L152.2,179.5 L151.5,180.0 L150.9,180.5 L150.2,181.0 L149.5,181.5 L148.8,182.0 L148.1,182.5 L147.5,183.0 L146.8,183.5 L146.2,184.0 L145.5,184.5 L144.9,185.0 L144.3,185.5 L143.7,186.0 L143.1,186.5 L142.5,187.0 L142.0,187.5 L141.4,188.0 L140.8,188.5 L140.3,189.0 L139.7,189.5 L139.2,190.0 L138.6,190.5 L138.1,191.0 L137.5,191.5 L137.0,192.0 L136.4,192.5 L135.9,193.0 L135.3,193.5 L134.8,194.0 L134.2,194.5 L133.7,195.0 L133.2,195.5 L132.6,196.0 L132.1,196.5 L131.5,197.0 L131.0,197.5 L130.5,198.0 L130.0,198.5 L129.5,199.0 L129.0,199.5 L128.6,200.0 L128.2,200.5 L127.9,201.0 L127.6,201.5 L127.3,202.0 L127.0,202.5 L126.8,203.0 L126.6,203.5 L126.3,204.0 L126.1,204.5 L125.8,205.0 L125.6,205.5 L125.4,206.0 L125.1,206.5 L124.9,207.0 L124.7,207.5 L124.5,208.0 L124.2,208.5 L124.0,209.0 L123.8,209.5 L123.6,210.0 L123.4,210.5 L123.1,211.0 L122.9,211.5 L122.7,212.0 L122.5,212.5 L122.3,213.0 L122.0,213.5 L121.8,214.0 L121.6,214.5 L121.4,215.0 L121.2,215.5 L121.0,216.0 L120.8,216.5 L120.6,217.0 L120.4,217.5 L120.2,218.0 L120.0,218.5 L119.8,219.0 L119.6,219.5 L119.4,220.0 L119.2,220.5 L119.0,221.0 L118.9,221.5 L118.7,222.0 L118.5,222.5 L118.4,223.0 L118.3,223.5 L118.2,224.0 L118.2,224.5 L118.2,225.0 L118.2,225.5 L118.2,226.0 L118.3,226.5 L118.3,227.0 L118.4,227.5 L118.4,228.0 L118.4,228.5 L118.5,229.0 L118.6,229.5 L118.6,230.0 L118.7,230.5 L118.7,231.0 L118.7,231.5 L118.8,232.0 L118.8,232.5 L118.9,233.0 L118.9,233.5 L118.9,234.0 L118.9,234.5 L119.0,235.0 L119.0,235.5 L119.0,236.0 L119.0,236.5 L119.1,237.0 L119.1,237.5 L119.1,238.0 L119.1,238.5 L119.2,239.0 L119.2,239.5 L119.2,240.0 L119.2,240.5 L119.2,241.0 L119.3,241.5 L119.3,242.0 L119.3,242.5 L119.3,243.0 L119.3,243.5 L119.3,244.0 L119.4,244.5 L119.4,245.0 L119.4,245.5 L119.4,246.0 L119.4,246.5 L119.4,247.0 L119.4,247.5 L119.4,248.0 L119.4,248.5 L119.4,249.0 L119.5,249.5 L119.5,250.0 L119.5,250.5 L119.5,251.0 L119.5,251.5 L119.5,252.0 L119.5,252.5 L119.5,253.0 L119.5,253.5 L119.5,254.0 L119.5,254.5 L119.5,255.0 L119.5,255.5 L119.5,256.0 L119.5,256.5 L119.5,257.0 L119.5,257.5 L119.5,258.0 L119.5,258.5 L119.5,259.0 L119.4,259.5 L119.4,260.0 L119.4,260.5 L119.4,261.0 L119.3,261.5 L119.3,262.0 L119.3,262.5 L119.3,263.0 L119.3,263.5 L119.2,264.0 L119.2,264.5 L119.2,265.0 L119.2,265.5 L119.2,266.0 L119.2,266.5 L119.3,267.0 L119.3,267.5 L119.3,268.0 L119.3,268.5 L119.2,269.0 L119.1,269.5 L119.0,270.0 L118.8,270.5 L118.6,271.0 L118.2,271.5 L117.8,272.0 L117.3,272.5 L116.9,273.0 L116.4,273.5 L115.9,274.0 L115.4,274.5 L114.9,275.0 L114.4,275.5 L113.9,276.0 L113.4,276.5 L112.8,277.0 L112.3,277.5 L111.8,278.0 L111.3,278.5 L110.8,279.0 L110.3,279.5 L109.8,280.0 L109.3,280.5 L108.9,281.0 L108.4,281.5 L108.0,282.0 L107.8,282.5 L107.7,283.0 L107.8,283.5 L108.1,284.0 L108.6,284.5 L109.1,285.0 L109.5,285.5 L109.6,286.0 L109.7,286.5 L109.7,287.0 L109.6,287.5 L109.4,288.0 L109.1,288.5 L108.6,289.0 L108.0,289.5 L107.6,290.0 L107.3,290.5 L107.0,291.0" fill="none" stroke="#000000" stroke-width="2.5" stroke-linejoin="round"/>
</g>
<g clip-path="url(#cr)">
<g transform="translate(0,0.4)">
<path d="M414.6,10.8 L414.8,11.3 L415.0,11.8 L415.1,12.3 L415.2,12.8 L415.2,13.3 L415.2,13.8 L415.1,14.3 L414.9,14.8 L414.7,15.3 L414.3,15.8 L413.8,16.3 L413.3,16.8 L412.7,17.3 L412.0,17.8 L411.4,18.3 L410.7,18.8 L409.9,19.3 L409.2,19.8 L408.4,20.3 L407.5,20.8 L406.6,21.3 L405.7,21.8 L404.8,22.3 L403.8,22.8 L402.9,23.3 L401.9,23.8 L401.0,24.3 L400.0,24.8 L399.1,25.3 L398.1,25.8 L397.2,26.3 L396.2,26.8 L395.3,27.3 L394.3,27.8 L393.4,28.3 L392.4,28.8 L391.5,29.3 L390.6,29.8 L389.6,30.3 L388.7,30.8 L387.8,31.3 L386.9,31.8 L386.0,32.3 L385.1,32.8 L384.1,33.3 L383.2,33.8 L382.4,34.3 L381.5,34.8 L380.6,35.3 L379.7,35.8 L378.8,36.3 L377.9,36.8 L377.0,37.3 L376.1,37.8 L375.3,38.3 L374.4,38.8 L373.6,39.3 L373.0,39.8 L372.4,40.3 L371.9,40.8 L371.5,41.3 L371.1,41.8 L370.8,42.3 L370.6,42.8 L370.4,43.3 L370.5,43.8 L370.7,44.3 L371.2,44.8 L372.0,45.3 L373.0,45.8 L374.4,46.3 L376.1,46.8 L378.0,47.3 L380.1,47.8 L382.1,48.3 L384.2,48.8 L386.4,49.3 L388.5,49.8 L390.6,50.3 L392.6,50.8 L394.6,51.3 L396.5,51.8 L398.4,52.3 L400.4,52.8 L402.3,53.3 L404.2,53.8 L406.1,54.3 L408.0,54.8 L409.9,55.3 L411.7,55.8 L413.5,56.3 L415.2,56.8 L416.8,57.3 L418.4,57.8 L420.0,58.3 L421.5,58.8 L422.8,59.3 L423.8,59.8 L424.7,60.3 L425.3,60.8 L425.7,61.3 L425.9,61.8 L425.9,62.3 L425.8,62.8 L425.5,63.3 L425.2,63.8 L424.7,64.3 L424.1,64.8 L423.5,65.3 L422.7,65.8 L421.8,66.3 L420.9,66.8 L419.9,67.3 L418.7,67.8 L417.5,68.3 L416.3,68.8 L415.0,69.3 L413.7,69.8 L412.5,70.3 L411.3,70.8 L410.1,71.3 L409.1,71.8 L408.2,72.3 L407.3,72.8 L406.4,73.3 L405.7,73.8 L404.9,74.3 L404.3,74.8 L403.7,75.3 L403.1,75.8 L402.6,76.3 L402.2,76.8 L401.8,77.3 L401.5,77.8 L401.4,78.3 L401.5,78.8 L401.8,79.3 L402.3,79.8 L403.1,80.3 L404.1,80.8 L405.4,81.3 L406.9,81.8 L408.6,82.3 L410.3,82.8 L412.1,83.3 L413.8,83.8 L415.5,84.3 L417.0,84.8 L418.3,85.3 L419.5,85.8 L420.7,86.3 L421.9,86.8 L423.1,87.3 L424.2,87.8 L425.3,88.3 L426.3,88.8 L427.4,89.3 L428.5,89.8 L429.3,90.3 L429.9,90.8 L430.1,91.3 L429.8,91.8 L429.4,92.3 L428.8,92.8 L428.2,93.3 L427.4,93.8 L426.6,94.3 L425.8,94.8 L425.1,95.3 L424.3,95.8 L423.4,96.3 L422.5,96.8 L421.5,97.3 L420.5,97.8 L419.4,98.3 L418.4,98.8 L417.4,99.3 L416.4,99.8 L415.5,100.3 L414.7,100.8 L414.0,101.3 L413.5,101.8 L413.1,102.3 L412.9,102.8 L413.1,103.3 L413.4,103.8 L414.0,104.3 L414.6,104.8 L415.2,105.3 L415.8,105.8 L416.4,106.3 L417.0,106.8 L417.6,107.3 L418.2,107.8 L418.8,108.3 L419.4,108.8 L420.0,109.3 L420.6,109.8 L421.3,110.3 L422.0,110.8 L422.6,111.3 L423.3,111.8 L424.0,112.3 L424.6,112.8 L425.2,113.3 L425.7,113.8 L426.1,114.3 L426.7,114.8 L427.3,115.3 L427.9,115.8 L428.6,116.3 L429.2,116.8 L429.9,117.3 L430.6,117.8 L431.3,118.3 L431.9,118.8 L432.6,119.3 L433.3,119.8 L434.0,120.3 L434.8,120.8 L435.5,121.3 L436.2,121.8 L436.9,122.3 L437.7,122.8 L438.5,123.3 L439.2,123.8 L440.0,124.3 L440.8,124.8 L441.6,125.3 L442.4,125.8 L443.2,126.3 L444.0,126.8 L444.7,127.3 L445.4,127.8 L446.1,128.3 L446.7,128.8 L447.2,129.3 L447.7,129.8 L448.2,130.3 L448.6,130.8 L449.0,131.3 L449.2,131.8 L449.4,132.3 L449.5,132.8 L449.5,133.3 L449.5,133.8 L449.4,134.3 L449.2,134.8 L449.0,135.3 L448.6,135.8 L448.0,136.3 L447.1,136.8 L446.0,137.3 L444.7,137.8 L443.2,138.3 L441.8,138.8 L440.2,139.3 L438.7,139.8 L437.1,140.3 L435.6,140.8 L434.1,141.3 L432.6,141.8 L431.3,142.3 L429.9,142.8 L428.5,143.3 L427.2,143.8 L425.9,144.3 L424.6,144.8 L423.3,145.3 L422.0,145.8 L420.8,146.3 L419.5,146.8 L418.3,147.3 L417.1,147.8 L416.2,148.3 L415.4,148.8 L414.8,149.3 L414.5,149.8 L414.4,150.3 L414.5,150.8 L414.7,151.3 L415.0,151.8 L415.4,152.3 L415.9,152.8 L416.5,153.3 L417.2,153.8 L417.9,154.3 L418.8,154.8 L419.8,155.3 L420.8,155.8 L421.8,156.3 L422.7,156.8 L423.5,157.3 L424.1,157.8 L424.7,158.3 L425.2,158.8 L425.6,159.3 L426.0,159.8 L426.3,160.3 L426.6,160.8 L426.7,161.3 L426.8,161.8 L426.8,162.3 L426.8,162.8 L426.8,163.3 L426.7,163.8 L426.6,164.3 L426.6,164.8 L426.6,165.3 L426.6,165.8 L426.8,166.3 L426.9,166.8 L427.0,167.3 L427.2,167.8 L427.4,168.3 L427.6,168.8 L427.8,169.3 L428.1,169.8 L428.4,170.3 L428.8,170.8 L429.2,171.3 L429.7,171.8 L430.3,172.3 L430.9,172.8 L431.6,173.3 L432.3,173.8 L433.0,174.3 L433.7,174.8 L434.5,175.3 L435.1,175.8 L435.8,176.3 L436.4,176.8 L436.9,177.3 L437.5,177.8 L438.1,178.3 L438.7,178.8 L439.3,179.3 L439.8,179.8 L440.3,180.3 L440.7,180.8 L441.1,181.3 L441.4,181.8 L441.6,182.3 L441.9,182.8 L442.1,183.3 L442.2,183.8 L442.4,184.3 L442.5,184.8 L442.6,185.3 L442.6,185.8 L442.7,186.3 L442.7,186.8 L442.8,187.3 L442.8,187.8 L442.8,188.3 L442.8,188.8 L442.8,189.3 L442.9,189.8 L442.9,190.3 L442.9,190.8 L442.9,191.3 L442.9,191.8 L442.9,192.3 L442.9,192.8 L442.9,193.3 L442.9,193.8 L442.9,194.3 L442.9,194.8 L442.8,195.3 L442.8,195.8 L442.8,196.3 L442.7,196.8 L442.7,197.3 L442.5,197.8 L442.2,198.3 L441.9,198.8 L441.4,199.3 L440.9,199.8 L440.4,200.3 L439.8,200.8 L439.2,201.3 L438.6,201.8 L438.0,202.3 L437.3,202.8 L436.6,203.3 L435.7,203.8 L434.8,204.3 L433.9,204.8 L433.0,205.3 L432.1,205.8 L431.3,206.3 L430.5,206.8 L429.8,207.3 L429.3,207.8 L428.8,208.3 L428.5,208.8 L428.2,209.3 L428.0,209.8 L427.8,210.3 L427.6,210.8 L427.5,211.3 L427.5,211.8 L427.5,212.3 L427.5,212.8 L427.5,213.3 L427.5,213.8 L427.7,214.3 L427.8,214.8 L428.0,215.3 L428.2,215.8 L428.4,216.3 L428.6,216.8 L428.8,217.3 L429.0,217.8 L429.1,218.3 L429.1,218.8 L429.1,219.3 L429.0,219.8 L428.9,220.3 L428.8,220.8 L428.6,221.3 L428.4,221.8 L428.1,222.3 L427.7,222.8 L427.3,223.3 L426.9,223.8 L426.4,224.3 L425.7,224.8 L425.0,225.3 L424.3,225.8 L423.6,226.3 L422.9,226.8 L422.3,227.3 L421.8,227.8 L421.4,228.3 L420.9,228.8 L420.6,229.3 L420.2,229.8 L419.9,230.3 L419.7,230.8 L419.5,231.3 L419.3,231.8 L419.1,232.3 L418.9,232.8 L418.8,233.3 L418.6,233.8 L418.5,234.3 L418.4,234.8 L418.4,235.3 L418.3,235.8 L418.3,236.3 L418.3,236.8 L418.3,237.3 L418.4,237.8 L418.4,238.3 L418.5,238.8 L418.6,239.3 L418.7,239.8 L418.8,240.3 L418.9,240.8 L419.1,241.3 L419.2,241.8 L419.4,242.3 L419.6,242.8 L419.7,243.3 L420.0,243.8 L420.2,244.3 L420.4,244.8 L420.7,245.3 L421.0,245.8 L421.4,246.3 L421.8,246.8 L422.2,247.3 L422.5,247.8 L422.8,248.3 L422.9,248.8 L423.1,249.3 L423.2,249.8 L423.3,250.3 L423.5,250.8 L423.6,251.3 L423.7,251.8 L423.8,252.3 L423.9,252.8 L424.0,253.3 L424.1,253.8 L424.2,254.3 L424.3,254.8 L424.3,255.3 L424.4,255.8 L424.5,256.3 L424.6,256.8 L424.6,257.3 L424.7,257.8 L424.8,258.3 L424.8,258.8 L424.9,259.3 L424.9,259.8 L424.9,260.3 L425.0,260.8 L425.0,261.3 L425.1,261.8 L425.1,262.3 L425.2,262.8 L425.2,263.3 L425.3,263.8 L425.3,264.3 L425.4,264.8 L425.5,265.3 L425.6,265.8 L425.7,266.3 L425.9,266.8 L426.1,267.3 L426.3,267.8 L426.6,268.3 L427.0,268.8 L427.3,269.3 L427.7,269.8 L428.1,270.3 L428.6,270.8 L429.1,271.3 L429.7,271.8 L430.4,272.3 L431.1,272.8 L431.9,273.3 L432.7,273.8 L433.6,274.3 L434.5,274.8 L435.4,275.3 L436.4,275.8 L437.4,276.3 L438.6,276.8 L439.8,277.3 L441.0,277.8 L442.2,278.3 L443.4,278.8 L444.4,279.3 L445.5,279.8 L446.4,280.3 L447.1,280.8 L447.5,281.3 L447.3,281.8 L446.7,282.3 L445.9,282.8 L444.8,283.3 L443.8,283.8 L442.7,284.3 L441.4,284.8 L440.0,285.3 L438.9,285.8 L438.3,286.3 L438.1,286.8 L438.0,287.3 L438.0,287.8 L438.0,288.3 L438.0,288.8 L438.0,289.3 L438.0,289.8 L438.0,290.3 L438.0,290.8 L438.0,291.0" transform="translate(0.1,0.25)" fill="none" stroke="#0000ff" stroke-width="1.6" stroke-dasharray="6.0 2.58" stroke-dashoffset="1.5"/>
<path d="M415.0,10.8 L415.2,11.3 L415.4,11.8 L415.5,12.3 L415.6,12.8 L415.6,13.3 L415.6,13.8 L415.5,14.3 L415.3,14.8 L415.1,15.3 L414.7,15.8 L414.2,16.3 L413.7,16.8 L413.1,17.3 L412.4,17.8 L411.8,18.3 L411.1,18.8 L410.3,19.3 L409.6,19.8 L408.8,20.3 L407.9,20.8 L407.0,21.3 L406.1,21.8 L405.2,22.3 L404.2,22.8 L403.3,23.3 L402.3,23.8 L401.4,24.3 L400.4,24.8 L399.5,25.3 L398.5,25.8 L397.6,26.3 L396.6,26.8 L395.7,27.3 L394.7,27.8 L393.8,28.3 L392.8,28.8 L391.9,29.3 L391.0,29.8 L390.0,30.3 L389.1,30.8 L388.2,31.3 L387.3,31.8 L386.4,32.3 L385.5,32.8 L384.5,33.3 L383.6,33.8 L382.8,34.3 L381.9,34.8 L381.0,35.3 L380.1,35.8 L379.2,36.3 L378.3,36.8 L377.4,37.3 L376.5,37.8 L375.7,38.3 L374.8,38.8 L374.0,39.3 L373.4,39.8 L372.8,40.3 L372.3,40.8 L371.9,41.3 L371.5,41.8 L371.2,42.3 L371.0,42.8 L370.8,43.3 L370.9,43.8 L371.1,44.3 L371.6,44.8 L372.4,45.3 L373.4,45.8 L374.8,46.3 L376.5,46.8 L378.4,47.3 L380.5,47.8 L382.5,48.3 L384.6,48.8 L386.8,49.3 L388.9,49.8 L391.0,50.3 L393.0,50.8 L395.0,51.3 L396.9,51.8 L398.8,52.3 L400.8,52.8 L402.7,53.3 L404.6,53.8 L406.5,54.3 L408.4,54.8 L410.3,55.3 L412.1,55.8 L413.9,56.3 L415.6,56.8 L417.2,57.3 L418.8,57.8 L420.4,58.3 L421.9,58.8 L423.3,59.3 L424.5,59.8 L425.6,60.3 L426.4,60.8 L427.0,61.3 L427.3,61.8 L427.4,62.3 L427.4,62.8 L427.2,63.3 L426.8,63.8 L426.3,64.3 L425.7,64.8 L425.0,65.3 L424.2,65.8 L423.3,66.3 L422.3,66.8 L421.3,67.3 L420.1,67.8 L418.9,68.3 L417.6,68.8 L416.4,69.3 L415.1,69.8 L413.8,70.3 L412.7,70.8 L411.5,71.3 L410.5,71.8 L409.6,72.3 L408.7,72.8 L407.8,73.3 L407.1,73.8 L406.3,74.3 L405.7,74.8 L405.1,75.3 L404.5,75.8 L404.0,76.3 L403.6,76.8 L403.2,77.3 L402.9,77.8 L402.8,78.3 L402.9,78.8 L403.2,79.3 L403.7,79.8 L404.5,80.3 L405.5,80.8 L406.8,81.3 L408.3,81.8 L410.0,82.3 L411.7,82.8 L413.5,83.3 L415.2,83.8 L416.9,84.3 L418.4,84.8 L419.7,85.3 L420.9,85.8 L422.1,86.3 L423.3,86.8 L424.5,87.3 L425.6,87.8 L426.7,88.3 L427.7,88.8 L428.8,89.3 L429.9,89.8 L430.7,90.3 L431.3,90.8 L431.5,91.3 L431.2,91.8 L430.7,92.3 L430.2,92.8 L429.5,93.3 L428.8,93.8 L428.0,94.3 L427.2,94.8 L426.5,95.3 L425.7,95.8 L424.8,96.3 L423.9,96.8 L422.8,97.3 L421.7,97.8 L420.5,98.3 L419.4,98.8 L418.3,99.3 L417.2,99.8 L416.2,100.3 L415.4,100.8 L414.6,101.3 L414.1,101.8 L413.7,102.3 L413.6,102.8 L413.7,103.3 L414.2,103.8 L415.0,104.3 L415.9,104.8 L416.7,105.3 L417.3,105.8 L417.9,106.3 L418.5,106.8 L419.1,107.3 L419.6,107.8 L420.2,108.3 L420.8,108.8 L421.4,109.3 L422.1,109.8 L422.7,110.3 L423.3,110.8 L424.0,111.3 L424.7,111.8 L425.4,112.3 L426.0,112.8 L426.6,113.3 L427.0,113.8 L427.5,114.3 L428.1,114.8 L428.7,115.3 L429.4,115.8 L430.1,116.3 L430.8,116.8 L431.5,117.3 L432.3,117.8 L433.0,118.3 L433.7,118.8 L434.4,119.3 L435.2,119.8 L435.9,120.3 L436.7,120.8 L437.5,121.3 L438.2,121.8 L439.0,122.3 L439.8,122.8 L440.5,123.3 L441.3,123.8 L442.1,124.3 L442.9,124.8 L443.6,125.3 L444.4,125.8 L445.2,126.3 L445.9,126.8 L446.7,127.3 L447.4,127.8 L448.2,128.3 L448.9,128.8 L449.6,129.3 L450.2,129.8 L450.9,130.3 L451.5,130.8 L451.9,131.3 L452.1,131.8 L452.3,132.3 L452.4,132.8 L452.4,133.3 L452.4,133.8 L452.3,134.3 L452.0,134.8 L451.6,135.3 L451.0,135.8 L450.2,136.3 L449.1,136.8 L447.8,137.3 L446.6,137.8 L445.3,138.3 L444.0,138.8 L442.8,139.3 L441.5,139.8 L440.2,140.3 L438.9,140.8 L437.6,141.3 L436.3,141.8 L435.0,142.3 L433.7,142.8 L432.4,143.3 L431.1,143.8 L429.8,144.3 L428.5,144.8 L427.1,145.3 L425.8,145.8 L424.5,146.3 L423.2,146.8 L421.9,147.3 L420.6,147.8 L419.3,148.3 L418.5,148.8 L418.0,149.3 L417.9,149.8 L417.9,150.3 L418.1,150.8 L418.4,151.3 L418.8,151.8 L419.2,152.3 L419.6,152.8 L420.1,153.3 L420.6,153.8 L421.3,154.3 L421.9,154.8 L422.7,155.3 L423.5,155.8 L424.4,156.3 L425.4,156.8 L426.5,157.3 L427.5,157.8 L428.4,158.3 L429.2,158.8 L429.8,159.3 L430.4,159.8 L430.9,160.3 L431.3,160.8 L431.7,161.3 L432.0,161.8 L432.2,162.3 L432.3,162.8 L432.4,163.3 L432.4,163.8 L432.4,164.3 L432.4,164.8 L432.5,165.3 L432.6,165.8 L432.8,166.3 L433.0,166.8 L433.3,167.3 L433.6,167.8 L433.9,168.3 L434.2,168.8 L434.6,169.3 L434.9,169.8 L435.3,170.3 L435.8,170.8 L436.3,171.3 L436.8,171.8 L437.3,172.3 L437.9,172.8 L438.6,173.3 L439.3,173.8 L440.0,174.3 L440.8,174.8 L441.6,175.3 L442.3,175.8 L443.0,176.3 L443.7,176.8 L444.3,177.3 L444.9,177.8 L445.5,178.3 L446.0,178.8 L446.6,179.3 L447.1,179.8 L447.6,180.3 L448.1,180.8 L448.5,181.3 L449.0,181.8 L449.4,182.3 L449.7,182.8 L450.0,183.3 L450.3,183.8 L450.6,184.3 L450.8,184.8 L451.0,185.3 L451.3,185.8 L451.5,186.3 L451.6,186.8 L451.8,187.3 L451.9,187.8 L452.1,188.3 L452.2,188.8 L452.3,189.3 L452.4,189.8 L452.4,190.3 L452.5,190.8 L452.5,191.3 L452.6,191.8 L452.6,192.3 L452.7,192.8 L452.7,193.3 L452.7,193.8 L452.8,194.3 L452.8,194.8 L452.9,195.3 L452.9,195.8 L453.0,196.3 L453.1,196.8 L453.1,197.3 L453.0,197.8 L452.7,198.3 L452.3,198.8 L451.8,199.3 L451.3,199.8 L450.6,200.3 L450.0,200.8 L449.4,201.3 L448.8,201.8 L448.1,202.3 L447.4,202.8 L446.6,203.3 L445.8,203.8 L444.9,204.3 L444.1,204.8 L443.3,205.3 L442.5,205.8 L441.8,206.3 L441.2,206.8 L440.6,207.3 L440.1,207.8 L439.7,208.3 L439.3,208.8 L439.1,209.3 L438.8,209.8 L438.6,210.3 L438.5,210.8 L438.4,211.3 L438.4,211.8 L438.4,212.3 L438.4,212.8 L438.6,213.3 L438.7,213.8 L438.9,214.3 L439.1,214.8 L439.3,215.3 L439.5,215.8 L439.7,216.3 L440.0,216.8 L440.1,217.3 L440.3,217.8 L440.4,218.3 L440.5,218.8 L440.5,219.3 L440.5,219.8 L440.5,220.3 L440.4,220.8 L440.4,221.3 L440.2,221.8 L440.1,222.3 L439.9,222.8 L439.6,223.3 L439.3,223.8 L438.9,224.3 L438.4,224.8 L437.7,225.3 L436.9,225.8 L436.1,226.3 L435.4,226.8 L434.9,227.3 L434.5,227.8 L434.1,228.3 L433.7,228.8 L433.4,229.3 L433.1,229.8 L432.9,230.3 L432.7,230.8 L432.5,231.3 L432.4,231.8 L432.2,232.3 L432.1,232.8 L432.0,233.3 L432.0,233.8 L431.9,234.3 L431.9,234.8 L431.9,235.3 L431.9,235.8 L431.9,236.3 L432.0,236.8 L432.1,237.3 L432.2,237.8 L432.3,238.3 L432.4,238.8 L432.5,239.3 L432.7,239.8 L432.9,240.3 L433.0,240.8 L433.2,241.3 L433.5,241.8 L433.7,242.3 L433.9,242.8 L434.2,243.3 L434.5,243.8 L434.8,244.3 L435.1,244.8 L435.5,245.3 L435.9,245.8 L436.4,246.3 L437.0,246.8 L437.5,247.3 L438.0,247.8 L438.3,248.3 L438.6,248.8 L438.8,249.3 L439.1,249.8 L439.3,250.3 L439.6,250.8 L439.8,251.3 L440.0,251.8 L440.3,252.3 L440.5,252.8 L440.7,253.3 L441.0,253.8 L441.2,254.3 L441.4,254.8 L441.7,255.3 L441.9,255.8 L442.1,256.3 L442.3,256.8 L442.6,257.3 L442.8,257.8 L443.0,258.3 L443.2,258.8 L443.5,259.3 L443.7,259.8 L443.9,260.3 L444.1,260.8 L444.4,261.3 L444.6,261.8 L444.8,262.3 L445.0,262.8 L445.2,263.3 L445.5,263.8 L445.7,264.3 L445.9,264.8 L446.2,265.3 L446.4,265.8 L446.7,266.3 L447.0,266.8 L447.4,267.3 L447.8,267.8 L448.3,268.3 L448.8,268.8 L449.3,269.3 L449.9,269.8 L450.5,270.3 L451.2,270.8 L451.9,271.3 L452.7,271.8 L453.5,272.3 L454.4,272.8 L455.4,273.3 L456.4,273.8 L457.4,274.3 L458.4,274.8 L459.5,275.3 L460.6,275.8 L461.8,276.3 L463.0,276.8 L464.1,277.3 L465.3,277.8 L466.5,278.3 L467.6,278.8 L468.8,279.3 L470.0,279.8 L471.2,280.3 L472.1,280.8 L472.7,281.3 L472.9,281.8 L472.6,282.3 L471.9,282.8 L470.9,283.3 L469.9,283.8 L468.9,284.3 L467.8,284.8 L466.7,285.3 L465.5,285.8 L464.6,286.3 L464.1,286.8 L464.2,287.3 L464.5,287.8 L464.7,288.3 L464.7,288.8 L464.8,289.3 L464.8,289.8 L464.8,290.3 L464.7,290.8 L464.7,291.0" transform="translate(0.1,0.45)" fill="none" stroke="#000000" stroke-width="1.6" stroke-dasharray="6.0 2.58" stroke-dashoffset="4.5"/>
<path d="M413.2,10.8 L413.4,11.3 L413.6,11.8 L413.7,12.3 L413.8,12.8 L413.8,13.3 L413.8,13.8 L413.7,14.3 L413.5,14.8 L413.3,15.3 L412.9,15.8 L412.4,16.3 L411.9,16.8 L411.3,17.3 L410.6,17.8 L410.0,18.3 L409.3,18.8 L408.5,19.3 L407.8,19.8 L407.0,20.3 L406.1,20.8 L405.2,21.3 L404.3,21.8 L403.4,22.3 L402.4,22.8 L401.5,23.3 L400.5,23.8 L399.6,24.3 L398.6,24.8 L397.7,25.3 L396.7,25.8 L395.8,26.3 L394.8,26.8 L393.9,27.3 L392.9,27.8 L392.0,28.3 L391.0,28.8 L390.1,29.3 L389.2,29.8 L388.2,30.3 L387.3,30.8 L386.4,31.3 L385.5,31.8 L384.6,32.3 L383.7,32.8 L382.7,33.3 L381.8,33.8 L381.0,34.3 L380.1,34.8 L379.2,35.3 L378.3,35.8 L377.4,36.3 L376.5,36.8 L375.6,37.3 L374.7,37.8 L373.9,38.3 L373.0,38.8 L372.2,39.3 L371.6,39.8 L371.0,40.3 L370.5,40.8 L370.1,41.3 L369.7,41.8 L369.4,42.3 L369.2,42.8 L369.0,43.3 L369.1,43.8 L369.3,44.3 L369.8,44.8 L370.6,45.3 L371.6,45.8 L373.0,46.3 L374.7,46.8 L376.6,47.3 L378.6,47.8 L380.7,48.3 L382.8,48.8 L385.0,49.3 L387.1,49.8 L389.2,50.3 L391.2,50.8 L393.2,51.3 L395.1,51.8 L397.1,52.3 L399.0,52.8 L400.9,53.3 L402.9,53.8 L404.7,54.3 L406.6,54.8 L408.5,55.3 L410.3,55.8 L411.9,56.3 L413.4,56.8 L414.7,57.3 L415.9,57.8 L417.1,58.3 L418.1,58.8 L419.0,59.3 L419.7,59.8 L420.2,60.3 L420.6,60.8 L420.9,61.3 L421.0,61.8 L421.0,62.3 L420.9,62.8 L420.8,63.3 L420.6,63.8 L420.2,64.3 L419.8,64.8 L419.3,65.3 L418.6,65.8 L417.9,66.3 L417.0,66.8 L416.0,67.3 L414.9,67.8 L413.7,68.3 L412.4,68.8 L411.2,69.3 L409.9,69.8 L408.6,70.3 L407.4,70.8 L406.3,71.3 L405.2,71.8 L404.2,72.3 L403.3,72.8 L402.4,73.3 L401.6,73.8 L400.8,74.3 L400.1,74.8 L399.4,75.3 L398.7,75.8 L398.2,76.3 L397.7,76.8 L397.4,77.3 L397.2,77.8 L397.3,78.3 L397.5,78.8 L398.1,79.3 L398.9,79.8 L400.0,80.3 L401.3,80.8 L402.7,81.3 L404.2,81.8 L405.8,82.3 L407.5,82.8 L409.1,83.3 L410.7,83.8 L412.3,84.3 L413.8,84.8 L415.1,85.3 L416.6,85.8 L418.2,86.3 L419.8,86.8 L421.3,87.3 L422.7,87.8 L423.9,88.3 L424.8,88.8 L425.4,89.3 L425.6,89.8 L425.3,90.3 L424.9,90.8 L424.3,91.3 L423.6,91.8 L422.8,92.3 L422.0,92.8 L421.1,93.3 L420.3,93.8 L419.4,94.3 L418.5,94.8 L417.7,95.3 L417.0,95.8 L416.4,96.3 L415.7,96.8 L415.0,97.3 L414.3,97.8 L413.6,98.3 L413.0,98.8 L412.3,99.3 L411.6,99.8 L411.0,100.3 L410.4,100.8 L409.8,101.3 L409.3,101.8 L408.8,102.3 L408.4,102.8 L408.1,103.3 L407.9,103.8 L408.0,104.3 L408.2,104.8 L408.6,105.3 L409.1,105.8 L409.7,106.3 L410.4,106.8 L411.0,107.3 L411.7,107.8 L412.4,108.3 L413.1,108.8 L413.8,109.3 L414.5,109.8 L415.1,110.3 L415.8,110.8 L416.4,111.3 L417.0,111.8 L417.7,112.3 L418.3,112.8 L418.9,113.3 L419.5,113.8 L420.2,114.3 L420.8,114.8 L421.4,115.3 L422.0,115.8 L422.6,116.3 L423.1,116.8 L423.7,117.3 L424.3,117.8 L424.8,118.3 L425.4,118.8 L426.0,119.3 L426.5,119.8 L427.1,120.3 L427.7,120.8 L428.3,121.3 L429.0,121.8 L429.7,122.3 L430.4,122.8 L431.2,123.3 L432.0,123.8 L432.7,124.3 L433.5,124.8 L434.3,125.3 L435.1,125.8 L435.8,126.3 L436.5,126.8 L437.2,127.3 L437.8,127.8 L438.4,128.3 L439.0,128.8 L439.5,129.3 L440.0,129.8 L440.5,130.3 L440.9,130.8 L441.2,131.3 L441.4,131.8 L441.4,132.3 L441.4,132.8 L441.3,133.3 L441.0,133.8 L440.5,134.3 L439.8,134.8 L438.9,135.3 L438.0,135.8 L437.0,136.3 L435.9,136.8 L434.8,137.3 L433.6,137.8 L432.3,138.3 L431.0,138.8 L429.6,139.3 L428.1,139.8 L426.6,140.3 L425.0,140.8 L423.4,141.3 L421.8,141.8 L420.2,142.3 L418.6,142.8 L417.0,143.3 L415.4,143.8 L413.9,144.3 L412.5,144.8 L411.1,145.3 L409.8,145.8 L408.5,146.3 L407.3,146.8 L406.2,147.3 L405.1,147.8 L404.2,148.3 L403.3,148.8 L402.8,149.3 L402.5,149.8 L402.4,150.3 L402.4,150.8 L402.5,151.3 L402.6,151.8 L402.8,152.3 L403.0,152.8 L403.3,153.3 L403.7,153.8 L404.2,154.3 L404.8,154.8 L405.5,155.3 L406.3,155.8 L407.0,156.3 L407.8,156.8 L408.6,157.3 L409.3,157.8 L409.8,158.3 L410.3,158.8 L410.6,159.3 L411.0,159.8 L411.3,160.3 L411.5,160.8 L411.7,161.3 L411.9,161.8 L412.0,162.3 L412.0,162.8 L412.0,163.3 L411.8,163.8 L411.7,164.3 L411.6,164.8 L411.5,165.3 L411.5,165.8 L411.5,166.3 L411.7,166.8 L411.8,167.3 L412.0,167.8 L412.2,168.3 L412.4,168.8 L412.6,169.3 L412.9,169.8 L413.2,170.3 L413.6,170.8 L414.0,171.3 L414.4,171.8 L414.8,172.3 L415.4,172.8 L415.9,173.3 L416.5,173.8 L417.1,174.3 L417.7,174.8 L418.3,175.3 L418.9,175.8 L419.4,176.3 L420.0,176.8 L420.4,177.3 L420.9,177.8 L421.3,178.3 L421.7,178.8 L422.0,179.3 L422.4,179.8 L422.7,180.3 L423.1,180.8 L423.3,181.3 L423.6,181.8 L423.8,182.3 L423.9,182.8 L424.0,183.3 L424.1,183.8 L424.2,184.3 L424.3,184.8 L424.3,185.3 L424.4,185.8 L424.4,186.3 L424.5,186.8 L424.5,187.3 L424.5,187.8 L424.5,188.3 L424.5,188.8 L424.5,189.3 L424.5,189.8 L424.5,190.3 L424.4,190.8 L424.4,191.3 L424.4,191.8 L424.3,192.3 L424.3,192.8 L424.2,193.3 L424.2,193.8 L424.2,194.3 L424.1,194.8 L424.1,195.3 L424.1,195.8 L424.0,196.3 L423.8,196.8 L423.6,197.3 L423.3,197.8 L422.9,198.3 L422.4,198.8 L421.8,199.3 L421.0,199.8 L420.2,200.3 L419.4,200.8 L418.5,201.3 L417.7,201.8 L416.8,202.3 L416.0,202.8 L415.1,203.3 L414.3,203.8 L413.4,204.3 L412.5,204.8 L411.6,205.3 L410.7,205.8 L409.9,206.3 L409.1,206.8 L408.3,207.3 L407.7,207.8 L407.1,208.3 L406.6,208.8 L406.2,209.3 L405.8,209.8 L405.5,210.3 L405.3,210.8 L405.1,211.3 L404.9,211.8 L404.8,212.3 L404.7,212.8 L404.6,213.3 L404.6,213.8 L404.5,214.3 L404.5,214.8 L404.5,215.3 L404.4,215.8 L404.4,216.3 L404.3,216.8 L404.2,217.3 L404.0,217.8 L403.8,218.3 L403.6,218.8 L403.4,219.3 L403.2,219.8 L402.9,220.3 L402.6,220.8 L402.3,221.3 L402.0,221.8 L401.6,222.3 L401.2,222.8 L400.7,223.3 L400.1,223.8 L399.5,224.3 L398.8,224.8 L398.1,225.3 L397.3,225.8 L396.5,226.3 L395.6,226.8 L394.5,227.3 L393.5,227.8 L392.4,228.3 L391.3,228.8 L390.4,229.3 L389.5,229.8 L388.9,230.3 L388.3,230.8 L387.8,231.3 L387.3,231.8 L386.9,232.3 L386.5,232.8 L386.1,233.3 L385.7,233.8 L385.4,234.3 L385.1,234.8 L384.8,235.3 L384.5,235.8 L384.3,236.3 L384.0,236.8 L383.8,237.3 L383.6,237.8 L383.4,238.3 L383.2,238.8 L383.0,239.3 L382.8,239.8 L382.6,240.3 L382.5,240.8 L382.3,241.3 L382.1,241.8 L381.9,242.3 L381.7,242.8 L381.5,243.3 L381.3,243.8 L381.0,244.3 L380.8,244.8 L380.5,245.3 L380.3,245.8 L380.0,246.3 L379.7,246.8 L379.5,247.3 L379.2,247.8 L378.9,248.3 L378.7,248.8 L378.5,249.3 L378.3,249.8 L378.1,250.3 L377.9,250.8 L377.7,251.3 L377.5,251.8 L377.3,252.3 L377.1,252.8 L376.9,253.3 L376.7,253.8 L376.5,254.3 L376.2,254.8 L375.9,255.3 L375.6,255.8 L375.3,256.3 L375.0,256.8 L374.7,257.3 L374.3,257.8 L373.9,258.3 L373.5,258.8 L373.0,259.3 L372.6,259.8 L372.1,260.3 L371.6,260.8 L371.2,261.3 L370.7,261.8 L370.3,262.3 L369.9,262.8 L369.5,263.3 L369.2,263.8 L368.9,264.3 L368.7,264.8 L368.5,265.3 L368.3,265.8 L368.2,266.3 L368.1,266.8 L368.0,267.3 L368.0,267.8 L368.0,268.3 L368.0,268.8 L368.1,269.3 L368.2,269.8 L368.4,270.3 L368.6,270.8 L368.9,271.3 L369.2,271.8 L369.5,272.3 L370.0,272.8 L370.4,273.3 L371.0,273.8 L371.5,274.3 L372.2,274.8 L372.8,275.3 L373.6,275.8 L374.3,276.3 L375.0,276.8 L375.8,277.3 L376.5,277.8 L377.3,278.3 L378.0,278.8 L378.7,279.3 L379.6,279.8 L380.6,280.3 L381.5,280.8 L382.1,281.3 L382.2,281.8 L381.6,282.3 L380.5,282.8 L379.3,283.3 L378.0,283.8 L376.7,284.3 L375.4,284.8 L374.1,285.3 L372.9,285.8 L371.6,286.3 L370.5,286.8 L370.4,287.3 L370.9,287.8 L371.3,288.3 L371.3,288.8 L371.4,289.3 L371.4,289.8 L371.4,290.3 L371.3,290.8 L371.3,291.0" transform="translate(-0.1,-0.45)" fill="none" stroke="#ff0000" stroke-width="1.6" stroke-dasharray="6.0 2.58" stroke-dashoffset="3"/>
<path d="M414.0,10.8 L414.2,11.3 L414.4,11.8 L414.5,12.3 L414.6,12.8 L414.6,13.3 L414.6,13.8 L414.5,14.3 L414.3,14.8 L414.1,15.3 L413.7,15.8 L413.2,16.3 L412.7,16.8 L412.1,17.3 L411.4,17.8 L410.8,18.3 L410.1,18.8 L409.3,19.3 L408.6,19.8 L407.8,20.3 L406.9,20.8 L406.0,21.3 L405.1,21.8 L404.2,22.3 L403.2,22.8 L402.3,23.3 L401.3,23.8 L400.4,24.3 L399.4,24.8 L398.5,25.3 L397.5,25.8 L396.6,26.3 L395.6,26.8 L394.7,27.3 L393.7,27.8 L392.8,28.3 L391.8,28.8 L390.9,29.3 L390.0,29.8 L389.0,30.3 L388.1,30.8 L387.2,31.3 L386.3,31.8 L385.4,32.3 L384.5,32.8 L383.5,33.3 L382.6,33.8 L381.8,34.3 L380.9,34.8 L380.0,35.3 L379.1,35.8 L378.2,36.3 L377.3,36.8 L376.4,37.3 L375.5,37.8 L374.7,38.3 L373.8,38.8 L373.0,39.3 L372.4,39.8 L371.8,40.3 L371.3,40.8 L370.9,41.3 L370.5,41.8 L370.2,42.3 L370.0,42.8 L369.8,43.3 L369.9,43.8 L370.1,44.3 L370.6,44.8 L371.4,45.3 L372.4,45.8 L373.8,46.3 L375.5,46.8 L377.4,47.3 L379.5,47.8 L381.5,48.3 L383.6,48.8 L385.8,49.3 L387.9,49.8 L390.0,50.3 L392.0,50.8 L394.0,51.3 L395.9,51.8 L397.8,52.3 L399.8,52.8 L401.7,53.3 L403.6,53.8 L405.5,54.3 L407.4,54.8 L409.3,55.3 L411.1,55.8 L412.9,56.3 L414.6,56.8 L416.2,57.3 L417.8,57.8 L419.4,58.3 L420.9,58.8 L422.2,59.3 L423.2,59.8 L424.1,60.3 L424.7,60.8 L425.1,61.3 L425.3,61.8 L425.3,62.3 L425.2,62.8 L424.9,63.3 L424.6,63.8 L424.1,64.3 L423.5,64.8 L422.9,65.3 L422.1,65.8 L421.2,66.3 L420.3,66.8 L419.3,67.3 L418.1,67.8 L416.9,68.3 L415.7,68.8 L414.4,69.3 L413.1,69.8 L411.9,70.3 L410.7,70.8 L409.5,71.3 L408.5,71.8 L407.6,72.3 L406.7,72.8 L405.8,73.3 L405.1,73.8 L404.3,74.3 L403.7,74.8 L403.1,75.3 L402.5,75.8 L402.0,76.3 L401.6,76.8 L401.2,77.3 L400.9,77.8 L400.8,78.3 L400.9,78.8 L401.2,79.3 L401.7,79.8 L402.5,80.3 L403.5,80.8 L404.8,81.3 L406.3,81.8 L408.0,82.3 L409.7,82.8 L411.5,83.3 L413.2,83.8 L414.9,84.3 L416.4,84.8 L417.7,85.3 L418.9,85.8 L420.1,86.3 L421.3,86.8 L422.5,87.3 L423.6,87.8 L424.7,88.3 L425.7,88.8 L426.8,89.3 L427.8,89.8 L428.6,90.3 L429.2,90.8 L429.4,91.3 L429.3,91.8 L428.9,92.3 L428.4,92.8 L427.7,93.3 L427.0,93.8 L426.2,94.3 L425.3,94.8 L424.5,95.3 L423.7,95.8 L422.8,96.3 L421.7,96.8 L420.7,97.3 L419.5,97.8 L418.4,98.3 L417.2,98.8 L416.1,99.3 L415.1,99.8 L414.1,100.3 L413.3,100.8 L412.6,101.3 L412.1,101.8 L411.8,102.3 L411.7,102.8 L411.8,103.3 L412.1,103.8 L412.6,104.3 L413.2,104.8 L413.8,105.3 L414.4,105.8 L415.0,106.3 L415.6,106.8 L416.2,107.3 L416.8,107.8 L417.4,108.3 L418.0,108.8 L418.6,109.3 L419.2,109.8 L419.9,110.3 L420.6,110.8 L421.3,111.3 L422.0,111.8 L422.7,112.3 L423.3,112.8 L423.9,113.3 L424.4,113.8 L424.9,114.3 L425.4,114.8 L426.0,115.3 L426.6,115.8 L427.2,116.3 L427.8,116.8 L428.4,117.3 L429.0,117.8 L429.6,118.3 L430.2,118.8 L430.9,119.3 L431.5,119.8 L432.2,120.3 L432.8,120.8 L433.5,121.3 L434.1,121.8 L434.8,122.3 L435.5,122.8 L436.2,123.3 L436.9,123.8 L437.7,124.3 L438.5,124.8 L439.3,125.3 L440.1,125.8 L440.9,126.3 L441.7,126.8 L442.4,127.3 L443.2,127.8 L443.9,128.3 L444.5,128.8 L445.1,129.3 L445.5,129.8 L445.9,130.3 L446.3,130.8 L446.6,131.3 L446.8,131.8 L447.0,132.3 L447.0,132.8 L446.9,133.3 L446.6,133.8 L446.3,134.3 L445.8,134.8 L445.1,135.3 L444.3,135.8 L443.4,136.3 L442.5,136.8 L441.4,137.3 L440.3,137.8 L439.2,138.3 L438.0,138.8 L436.8,139.3 L435.5,139.8 L434.2,140.3 L432.9,140.8 L431.5,141.3 L430.1,141.8 L428.7,142.3 L427.1,142.8 L425.5,143.3 L423.8,143.8 L422.2,144.3 L420.5,144.8 L419.0,145.3 L417.4,145.8 L416.0,146.3 L414.8,146.8 L413.7,147.3 L412.8,147.8 L412.1,148.3 L411.5,148.8 L411.2,149.3 L411.0,149.8 L411.1,150.3 L411.3,150.8 L411.5,151.3 L411.9,151.8 L412.3,152.3 L412.8,152.8 L413.4,153.3 L414.0,153.8 L414.7,154.3 L415.5,154.8 L416.4,155.3 L417.3,155.8 L418.1,156.3 L419.0,156.8 L419.7,157.3 L420.3,157.8 L420.9,158.3 L421.4,158.8 L421.9,159.3 L422.3,159.8 L422.7,160.3 L422.9,160.8 L423.1,161.3 L423.3,161.8 L423.3,162.3 L423.4,162.8 L423.4,163.3 L423.3,163.8 L423.3,164.3 L423.3,164.8 L423.4,165.3 L423.4,165.8 L423.6,166.3 L423.7,166.8 L423.8,167.3 L424.0,167.8 L424.2,168.3 L424.4,168.8 L424.6,169.3 L424.9,169.8 L425.2,170.3 L425.5,170.8 L425.9,171.3 L426.4,171.8 L426.9,172.3 L427.6,172.8 L428.2,173.3 L429.0,173.8 L429.7,174.3 L430.4,174.8 L431.2,175.3 L431.8,175.8 L432.5,176.3 L433.0,176.8 L433.6,177.3 L434.2,177.8 L434.7,178.3 L435.2,178.8 L435.8,179.3 L436.3,179.8 L436.7,180.3 L437.1,180.8 L437.5,181.3 L437.8,181.8 L438.1,182.3 L438.3,182.8 L438.5,183.3 L438.7,183.8 L438.8,184.3 L438.9,184.8 L439.0,185.3 L439.1,185.8 L439.2,186.3 L439.2,186.8 L439.3,187.3 L439.3,187.8 L439.3,188.3 L439.3,188.8 L439.4,189.3 L439.4,189.8 L439.4,190.3 L439.4,190.8 L439.4,191.3 L439.4,191.8 L439.4,192.3 L439.4,192.8 L439.4,193.3 L439.4,193.8 L439.3,194.3 L439.3,194.8 L439.2,195.3 L439.1,195.8 L439.1,196.3 L439.0,196.8 L438.8,197.3 L438.6,197.8 L438.3,198.3 L437.9,198.8 L437.5,199.3 L437.0,199.8 L436.4,200.3 L435.8,200.8 L435.2,201.3 L434.6,201.8 L433.9,202.3 L433.0,202.8 L432.2,203.3 L431.2,203.8 L430.3,204.3 L429.3,204.8 L428.4,205.3 L427.4,205.8 L426.6,206.3 L425.8,206.8 L425.0,207.3 L424.4,207.8 L423.9,208.3 L423.5,208.8 L423.1,209.3 L422.8,209.8 L422.6,210.3 L422.4,210.8 L422.2,211.3 L422.1,211.8 L422.0,212.3 L422.0,212.8 L422.0,213.3 L422.1,213.8 L422.1,214.3 L422.3,214.8 L422.4,215.3 L422.5,215.8 L422.5,216.3 L422.6,216.8 L422.6,217.3 L422.5,217.8 L422.4,218.3 L422.2,218.8 L422.1,219.3 L421.8,219.8 L421.6,220.3 L421.3,220.8 L421.0,221.3 L420.6,221.8 L420.2,222.3 L419.7,222.8 L419.2,223.3 L418.6,223.8 L418.1,224.3 L417.4,224.8 L416.8,225.3 L416.2,225.8 L415.5,226.3 L414.8,226.8 L414.1,227.3 L413.3,227.8 L412.4,228.3 L411.5,228.8 L410.6,229.3 L409.9,229.8 L409.3,230.3 L408.9,230.8 L408.5,231.3 L408.2,231.8 L407.9,232.3 L407.6,232.8 L407.4,233.3 L407.2,233.8 L407.1,234.3 L407.0,234.8 L406.8,235.3 L406.8,235.8 L406.7,236.3 L406.6,236.8 L406.6,237.3 L406.5,237.8 L406.4,238.3 L406.4,238.8 L406.3,239.3 L406.3,239.8 L406.2,240.3 L406.1,240.8 L406.1,241.3 L406.0,241.8 L406.0,242.3 L405.9,242.8 L405.8,243.3 L405.8,243.8 L405.7,244.3 L405.7,244.8 L405.6,245.3 L405.5,245.8 L405.5,246.3 L405.4,246.8 L405.3,247.3 L405.2,247.8 L405.2,248.3 L405.1,248.8 L405.0,249.3 L405.0,249.8 L404.9,250.3 L404.8,250.8 L404.7,251.3 L404.7,251.8 L404.6,252.3 L404.5,252.8 L404.4,253.3 L404.4,253.8 L404.3,254.3 L404.1,254.8 L404.0,255.3 L403.8,255.8 L403.6,256.3 L403.5,256.8 L403.2,257.3 L403.0,257.8 L402.7,258.3 L402.4,258.8 L402.1,259.3 L401.7,259.8 L401.4,260.3 L401.1,260.8 L400.7,261.3 L400.4,261.8 L400.1,262.3 L399.8,262.8 L399.6,263.3 L399.3,263.8 L399.1,264.3 L399.0,264.8 L398.8,265.3 L398.7,265.8 L398.6,266.3 L398.5,266.8 L398.5,267.3 L398.5,267.8 L398.5,268.3 L398.5,268.8 L398.6,269.3 L398.7,269.8 L398.9,270.3 L399.1,270.8 L399.4,271.3 L399.7,271.8 L400.1,272.3 L400.5,272.8 L401.0,273.3 L401.5,273.8 L402.0,274.3 L402.6,274.8 L403.3,275.3 L404.0,275.8 L404.7,276.3 L405.4,276.8 L406.1,277.3 L406.9,277.8 L407.5,278.3 L408.2,278.8 L409.0,279.3 L409.9,279.8 L410.7,280.3 L411.4,280.8 L411.8,281.3 L411.9,281.8 L411.6,282.3 L410.7,282.8 L409.3,283.3 L407.7,283.8 L406.1,284.3 L404.8,284.8 L403.1,285.3 L401.6,285.8 L400.5,286.3 L400.2,286.8 L400.2,287.3 L400.2,287.8 L400.2,288.3 L400.2,288.8 L400.2,289.3 L400.2,289.8 L400.2,290.3 L400.2,290.8 L400.2,291.0" fill="none" stroke="#008000" stroke-width="1.6" stroke-dasharray="6.0 2.58" stroke-dashoffset="0"/>
</g></g>
<rect x="55.6" y="10.65" width="193.9" height="280.6" fill="none" stroke="#000" stroke-width="0.9"/>
<path d="M55.6,291.25h4.6M249.5,291.25h-4.6M55.6,284.24h2.4M249.5,284.24h-2.4M55.6,277.22h2.4M249.5,277.22h-2.4M55.6,270.20h2.4M249.5,270.20h-2.4M55.6,263.19h2.4M249.5,263.19h-2.4M55.6,256.18h4.6M249.5,256.18h-4.6M55.6,249.16h2.4M249.5,249.16h-2.4M55.6,242.14h2.4M249.5,242.14h-2.4M55.6,235.13h2.4M249.5,235.13h-2.4M55.6,228.12h2.4M249.5,228.12h-2.4M55.6,221.10h4.6M249.5,221.10h-4.6M55.6,214.08h2.4M249.5,214.08h-2.4M55.6,207.07h2.4M249.5,207.07h-2.4M55.6,200.06h2.4M249.5,200.06h-2.4M55.6,193.04h2.4M249.5,193.04h-2.4M55.6,186.02h4.6M249.5,186.02h-4.6M55.6,179.01h2.4M249.5,179.01h-2.4M55.6,171.99h2.4M249.5,171.99h-2.4M55.6,164.98h2.4M249.5,164.98h-2.4M55.6,157.96h2.4M249.5,157.96h-2.4M55.6,150.95h4.6M249.5,150.95h-4.6M55.6,143.93h2.4M249.5,143.93h-2.4M55.6,136.92h2.4M249.5,136.92h-2.4M55.6,129.90h2.4M249.5,129.90h-2.4M55.6,122.89h2.4M249.5,122.89h-2.4M55.6,115.88h4.6M249.5,115.88h-4.6M55.6,108.86h2.4M249.5,108.86h-2.4M55.6,101.84h2.4M249.5,101.84h-2.4M55.6,94.83h2.4M249.5,94.83h-2.4M55.6,87.81h2.4M249.5,87.81h-2.4M55.6,80.80h4.6M249.5,80.80h-4.6M55.6,73.78h2.4M249.5,73.78h-2.4M55.6,66.77h2.4M249.5,66.77h-2.4M55.6,59.75h2.4M249.5,59.75h-2.4M55.6,52.74h2.4M249.5,52.74h-2.4M55.6,45.72h4.6M249.5,45.72h-4.6M55.6,38.71h2.4M249.5,38.71h-2.4M55.6,31.69h2.4M249.5,31.69h-2.4M55.6,24.68h2.4M249.5,24.68h-2.4M55.6,17.66h2.4M249.5,17.66h-2.4M55.6,10.65h4.6M249.5,10.65h-4.6M55.60,291.25v-4.0M55.60,10.65v4.0M136.39,291.25v-4.0M136.39,10.65v4.0M217.18,291.25v-4.0M217.18,10.65v4.0M71.76,291.25v-2.1M71.76,10.65v2.1M87.92,291.25v-2.1M87.92,10.65v2.1M104.08,291.25v-2.1M104.08,10.65v2.1M120.23,291.25v-2.1M120.23,10.65v2.1M152.55,291.25v-2.1M152.55,10.65v2.1M168.71,291.25v-2.1M168.71,10.65v2.1M184.87,291.25v-2.1M184.87,10.65v2.1M201.03,291.25v-2.1M201.03,10.65v2.1M233.34,291.25v-2.1M233.34,10.65v2.1M249.50,291.25v-2.1M249.50,10.65v2.1" stroke="#000" stroke-width="0.7" fill="none"/>
<rect x="351.9" y="11.05" width="193.9" height="280.4" fill="none" stroke="#000" stroke-width="0.9"/>
<path d="M351.9,291.45h4.6M545.8,291.45h-4.6M351.9,284.44h2.4M545.8,284.44h-2.4M351.9,277.43h2.4M545.8,277.43h-2.4M351.9,270.42h2.4M545.8,270.42h-2.4M351.9,263.41h2.4M545.8,263.41h-2.4M351.9,256.40h4.6M545.8,256.40h-4.6M351.9,249.39h2.4M545.8,249.39h-2.4M351.9,242.38h2.4M545.8,242.38h-2.4M351.9,235.37h2.4M545.8,235.37h-2.4M351.9,228.36h2.4M545.8,228.36h-2.4M351.9,221.35h4.6M545.8,221.35h-4.6M351.9,214.34h2.4M545.8,214.34h-2.4M351.9,207.33h2.4M545.8,207.33h-2.4M351.9,200.32h2.4M545.8,200.32h-2.4M351.9,193.31h2.4M545.8,193.31h-2.4M351.9,186.30h4.6M545.8,186.30h-4.6M351.9,179.29h2.4M545.8,179.29h-2.4M351.9,172.28h2.4M545.8,172.28h-2.4M351.9,165.27h2.4M545.8,165.27h-2.4M351.9,158.26h2.4M545.8,158.26h-2.4M351.9,151.25h4.6M545.8,151.25h-4.6M351.9,144.24h2.4M545.8,144.24h-2.4M351.9,137.23h2.4M545.8,137.23h-2.4M351.9,130.22h2.4M545.8,130.22h-2.4M351.9,123.21h2.4M545.8,123.21h-2.4M351.9,116.20h4.6M545.8,116.20h-4.6M351.9,109.19h2.4M545.8,109.19h-2.4M351.9,102.18h2.4M545.8,102.18h-2.4M351.9,95.17h2.4M545.8,95.17h-2.4M351.9,88.16h2.4M545.8,88.16h-2.4M351.9,81.15h4.6M545.8,81.15h-4.6M351.9,74.14h2.4M545.8,74.14h-2.4M351.9,67.13h2.4M545.8,67.13h-2.4M351.9,60.12h2.4M545.8,60.12h-2.4M351.9,53.11h2.4M545.8,53.11h-2.4M351.9,46.10h4.6M545.8,46.10h-4.6M351.9,39.09h2.4M545.8,39.09h-2.4M351.9,32.08h2.4M545.8,32.08h-2.4M351.9,25.07h2.4M545.8,25.07h-2.4M351.9,18.06h2.4M545.8,18.06h-2.4M351.9,11.05h4.6M545.8,11.05h-4.6M416.53,291.45v-4.0M416.53,11.05v4.0M502.71,291.45v-4.0M502.71,11.05v4.0M351.90,291.45v-2.1M351.90,11.05v2.1M373.44,291.45v-2.1M373.44,11.05v2.1M394.99,291.45v-2.1M394.99,11.05v2.1M438.08,291.45v-2.1M438.08,11.05v2.1M459.62,291.45v-2.1M459.62,11.05v2.1M481.17,291.45v-2.1M481.17,11.05v2.1M524.26,291.45v-2.1M524.26,11.05v2.1M545.80,291.45v-2.1M545.80,11.05v2.1" stroke="#000" stroke-width="0.7" fill="none"/>
<g font-family="'Liberation Serif', 'DejaVu Serif', serif">
<text x="24.5" y="295.9" font-size="14" text-anchor="start" fill="#000" textLength="24.6" lengthAdjust="spacingAndGlyphs" >0.00</text>
<text x="320.8" y="296.2" font-size="14" text-anchor="start" fill="#000" textLength="24.6" lengthAdjust="spacingAndGlyphs" >0.00</text>
<text x="24.5" y="260.9" font-size="14" text-anchor="start" fill="#000" textLength="24.6" lengthAdjust="spacingAndGlyphs" >0.25</text>
<text x="320.8" y="261.1" font-size="14" text-anchor="start" fill="#000" textLength="24.6" lengthAdjust="spacingAndGlyphs" >0.25</text>
<text x="24.5" y="225.8" font-size="14" text-anchor="start" fill="#000" textLength="24.6" lengthAdjust="spacingAndGlyphs" >0.50</text>
<text x="320.8" y="226.1" font-size="14" text-anchor="start" fill="#000" textLength="24.6" lengthAdjust="spacingAndGlyphs" >0.50</text>
<text x="24.5" y="190.7" font-size="14" text-anchor="start" fill="#000" textLength="24.6" lengthAdjust="spacingAndGlyphs" >0.75</text>
<text x="320.8" y="191.1" font-size="14" text-anchor="start" fill="#000" textLength="24.6" lengthAdjust="spacingAndGlyphs" >0.75</text>
<text x="24.5" y="155.6" font-size="14" text-anchor="start" fill="#000" textLength="24.6" lengthAdjust="spacingAndGlyphs" >1.00</text>
<text x="320.8" y="156.0" font-size="14" text-anchor="start" fill="#000" textLength="24.6" lengthAdjust="spacingAndGlyphs" >1.00</text>
<text x="24.5" y="120.6" font-size="14" text-anchor="start" fill="#000" textLength="24.6" lengthAdjust="spacingAndGlyphs" >1.25</text>
<text x="320.8" y="120.9" font-size="14" text-anchor="start" fill="#000" textLength="24.6" lengthAdjust="spacingAndGlyphs" >1.25</text>
<text x="24.5" y="85.5" font-size="14" text-anchor="start" fill="#000" textLength="24.6" lengthAdjust="spacingAndGlyphs" >1.50</text>
<text x="320.8" y="85.9" font-size="14" text-anchor="start" fill="#000" textLength="24.6" lengthAdjust="spacingAndGlyphs" >1.50</text>
<text x="24.5" y="50.4" font-size="14" text-anchor="start" fill="#000" textLength="24.6" lengthAdjust="spacingAndGlyphs" >1.75</text>
<text x="320.8" y="50.9" font-size="14" text-anchor="start" fill="#000" textLength="24.6" lengthAdjust="spacingAndGlyphs" >1.75</text>
<text x="24.5" y="15.3" font-size="14" text-anchor="start" fill="#000" textLength="24.6" lengthAdjust="spacingAndGlyphs" >2.00</text>
<text x="320.8" y="15.8" font-size="14" text-anchor="start" fill="#000" textLength="24.6" lengthAdjust="spacingAndGlyphs" >2.00</text>
<text x="55.1" y="306.3" font-size="14" text-anchor="middle" fill="#000" textLength="6.9" lengthAdjust="spacingAndGlyphs" >0</text>
<text x="135.8" y="306.3" font-size="14" text-anchor="middle" fill="#000" textLength="13.8" lengthAdjust="spacingAndGlyphs" >50</text>
<text x="216.6" y="306.3" font-size="14" text-anchor="middle" fill="#000" textLength="20.7" lengthAdjust="spacingAndGlyphs" >100</text>
<text x="416.0" y="306.7" font-size="14" text-anchor="middle" fill="#000" textLength="6.9" lengthAdjust="spacingAndGlyphs" >0</text>
<text x="502.2" y="306.7" font-size="14" text-anchor="middle" fill="#000" textLength="13.8" lengthAdjust="spacingAndGlyphs" >20</text>
<text x="73.9" y="327.9" font-size="14.2" text-anchor="start" fill="#000" >Ozone Concentration(ug/m<tspan font-size="9.3" dy="-5">3</tspan><tspan dy="5">)</tspan></text>
<text x="366.9" y="327.9" font-size="14.2" text-anchor="start" fill="#000" >Ozone Concentration(ug/m<tspan font-size="9.3" dy="-5">3</tspan><tspan dy="5">)</tspan></text>
<text transform="translate(14.6,150.7) rotate(-90)" font-size="14" text-anchor="middle" fill="#000" textLength="75" lengthAdjust="spacingAndGlyphs">Height (km)</text>
<text transform="translate(311.5,151.3) rotate(-90)" font-size="14" text-anchor="middle" fill="#000" textLength="75.5" lengthAdjust="spacingAndGlyphs">Height (km)</text>
<text x="70.9" y="39.0" font-size="14" text-anchor="start" fill="#000" textLength="16.4" lengthAdjust="spacingAndGlyphs" >(a)</text>
<text x="488.6" y="96.0" font-size="14" text-anchor="start" fill="#000" textLength="17.8" lengthAdjust="spacingAndGlyphs" >(b)</text>
<text x="151.6" y="221" font-size="10.6" text-anchor="start" fill="#000" textLength="81.4" lengthAdjust="spacingAndGlyphs" >Single difference</text>
<path d="M144.2,230.60h17.9" stroke="#0000ff" stroke-width="1.6" stroke-dasharray="6.0 2.58" fill="none"/>
<text transform="translate(169,233.5) scale(1.16,1)" font-size="8.6" fill="#000" textLength="61.4" lengthAdjust="spacing">AE=1.8 SA=20</text>
<path d="M144.2,242.75h17.9" stroke="#ffa500" stroke-width="1.6" stroke-dasharray="6.0 2.58" fill="none"/>
<text transform="translate(169,245.7) scale(1.16,1)" font-size="8.6" fill="#000" textLength="61.4" lengthAdjust="spacing">AE=1.8 SA=80</text>
<path d="M144.2,254.90h17.9" stroke="#ff0000" stroke-width="1.6" stroke-dasharray="6.0 2.58" fill="none"/>
<text transform="translate(169,257.8) scale(1.16,1)" font-size="8.6" fill="#000" textLength="61.4" lengthAdjust="spacing">AE=0.2 SA=20</text>
<path d="M144.2,267.05h17.9" stroke="#008000" stroke-width="1.6" stroke-dasharray="6.0 2.58" fill="none"/>
<text transform="translate(169,269.9) scale(1.16,1)" font-size="8.6" fill="#000" textLength="61.4" lengthAdjust="spacing">AE=0.2 SA=80</text>
<path d="M144.2,279.20h17.9" stroke="#000000" stroke-width="2.6" fill="none"/>
<text transform="translate(169,282.1) scale(1.16,1)" font-size="8.6" fill="#000" textLength="20.9" lengthAdjust="spacing">Input</text>
<text x="447.7" y="25.9" font-size="10.6" text-anchor="start" fill="#000" textLength="81.4" lengthAdjust="spacingAndGlyphs" >Single difference</text>
<path d="M440.4,35.00h17.9" stroke="#0000ff" stroke-width="1.6" stroke-dasharray="6.0 2.58" fill="none"/>
<text transform="translate(465.6,37.9) scale(1.16,1)" font-size="8.6" fill="#000" textLength="61.7" lengthAdjust="spacing">AE=1.8 SA=20</text>
<path d="M440.4,47.15h17.9" stroke="#000000" stroke-width="1.6" stroke-dasharray="6.0 2.58" fill="none"/>
<text transform="translate(465.6,50.0) scale(1.16,1)" font-size="8.6" fill="#000" textLength="61.7" lengthAdjust="spacing">AE=1.8 SA=80</text>
<path d="M440.4,59.30h17.9" stroke="#ff0000" stroke-width="1.6" stroke-dasharray="6.0 2.58" fill="none"/>
<text transform="translate(465.6,62.2) scale(1.16,1)" font-size="8.6" fill="#000" textLength="61.7" lengthAdjust="spacing">AE=0.2 SA=20</text>
<path d="M440.4,71.45h17.9" stroke="#008000" stroke-width="1.6" stroke-dasharray="6.0 2.58" fill="none"/>
<text transform="translate(465.6,74.4) scale(1.16,1)" font-size="8.6" fill="#000" textLength="61.7" lengthAdjust="spacing">AE=0.2 SA=80</text>
</g>
</svg>
</body></html>
